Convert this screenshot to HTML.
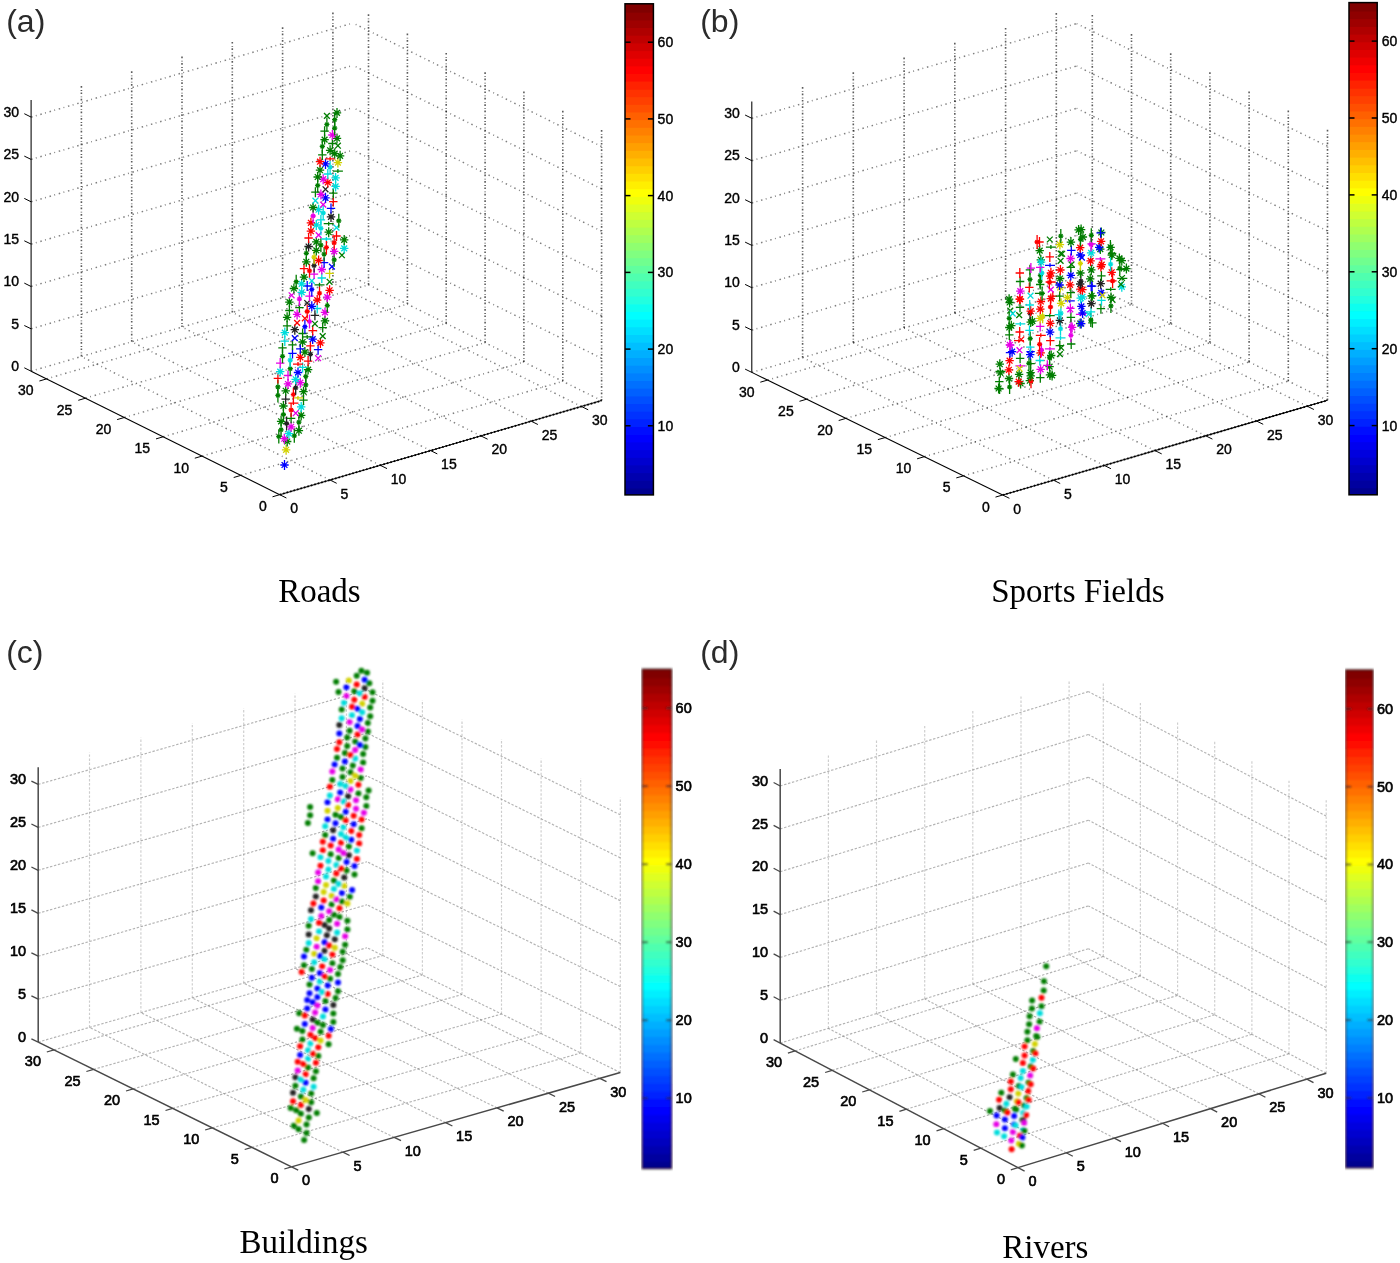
<!DOCTYPE html>
<html lang="en"><head><meta charset="utf-8"><title>3D distribution plots: Roads, Sports Fields, Buildings, Rivers</title>
<style>
html,body{margin:0;padding:0;background:#fff}
body{width:1400px;height:1263px;overflow:hidden}
svg{display:block}
text{font-family:"Liberation Sans",Arial,sans-serif}
.pl{font-size:32px;fill:#2b2b2b}
.ttl{font-family:"Liberation Serif","Times New Roman",serif;font-size:33px;fill:#000}
.sharp .tl{font-size:14px;fill:#000;stroke:#000;stroke-width:.4}
.sharp .gv{stroke:#000;stroke-width:1.6;stroke-dasharray:1.7 1.5 .8 2.4;stroke-opacity:.64;fill:none}
.sharp .gd{stroke:#000;stroke-width:1.5;stroke-dasharray:1.5 3.4 .9 3.8;stroke-opacity:.5;fill:none}
.sharp .ax{stroke:#000;stroke-width:1.05}
.sharp .axd{stroke:#000;stroke-width:1.8;stroke-dasharray:1.6 2}
.soft .axd{stroke:none}
.sharp .tk{stroke:#000;stroke-width:1}
.sharp .cbb{fill:none;stroke:#000;stroke-width:1.5}
.sharp .cbt{stroke:#000;stroke-width:1.5}
.soft .tl{font-size:14.5px;fill:#000;stroke:#000;stroke-width:.62}
.soft .gv{stroke:#888;stroke-width:1.15;stroke-dasharray:2.4 1.7;stroke-opacity:.42;fill:none}
.soft .gd{stroke:#777;stroke-width:1.15;stroke-dasharray:2.4 1.7;stroke-opacity:.56;fill:none}
.soft .ax{stroke:#484848;stroke-width:1.5}
.soft .tk{stroke:#484848;stroke-width:1.3}
.soft .cbb{fill:none;stroke:#200;stroke-width:1.6;stroke-opacity:.75}
.soft .cbt{stroke:#222;stroke-width:1.6}
.mk path{fill:none;stroke-width:1.3}
</style></head><body>
<svg width="1400" height="1263" viewBox="0 0 1400 1263">
<defs><filter id="bl" x="-2%" y="-2%" width="104%" height="104%"><feGaussianBlur stdDeviation="1.0"/></filter><filter id="bs" x="-2%" y="-2%" width="104%" height="104%"><feGaussianBlur stdDeviation="0.35"/></filter><filter id="bt" x="-2%" y="-2%" width="104%" height="104%"><feGaussianBlur stdDeviation="0.7"/></filter></defs>
<rect width="1400" height="1263" fill="#fff"/>
<g filter="url(#bs)">
<g class="sharp">
<line class="gd" x1="330" y1="480" x2="81.4" y2="356.5"/>
<line class="gd" x1="240.8" y1="475.4" x2="562.8" y2="381.3"/>
<line class="gd" x1="380.3" y1="465.3" x2="131.7" y2="341.8"/>
<line class="gd" x1="202" y1="456.1" x2="523.9" y2="362"/>
<line class="gd" x1="430.6" y1="450.6" x2="182" y2="327.1"/>
<line class="gd" x1="163.1" y1="436.8" x2="485.1" y2="342.7"/>
<line class="gd" x1="480.9" y1="435.9" x2="232.3" y2="312.4"/>
<line class="gd" x1="124.3" y1="417.5" x2="446.2" y2="323.4"/>
<line class="gd" x1="531.2" y1="421.2" x2="282.6" y2="297.7"/>
<line class="gd" x1="85.4" y1="398.2" x2="407.4" y2="304.1"/>
<line class="gd" x1="581.5" y1="406.5" x2="332.9" y2="283"/>
<line class="gd" x1="46.6" y1="378.9" x2="368.5" y2="284.8"/>
<line class="gd" x1="31.1" y1="371.2" x2="353" y2="277.1"/>
<line class="gd" x1="601.6" y1="400.6" x2="353" y2="277.1"/>
<line class="gv" x1="81.4" y1="356.5" x2="81.4" y2="85.4"/>
<line class="gd" x1="31.1" y1="328.8" x2="353" y2="234.8"/>
<line class="gv" x1="131.7" y1="341.8" x2="131.7" y2="70.7"/>
<line class="gd" x1="31.1" y1="286.5" x2="353" y2="192.4"/>
<line class="gv" x1="182" y1="327.1" x2="182" y2="56"/>
<line class="gd" x1="31.1" y1="244.1" x2="353" y2="150.1"/>
<line class="gv" x1="232.3" y1="312.4" x2="232.3" y2="41.3"/>
<line class="gd" x1="31.1" y1="201.8" x2="353" y2="107.7"/>
<line class="gv" x1="282.6" y1="297.7" x2="282.6" y2="26.6"/>
<line class="gd" x1="31.1" y1="159.4" x2="353" y2="65.3"/>
<line class="gv" x1="332.9" y1="283" x2="332.9" y2="11.9"/>
<line class="gd" x1="31.1" y1="117.1" x2="353" y2="23"/>
<line class="gv" x1="601.6" y1="400.6" x2="601.6" y2="129.6"/>
<line class="gv" x1="562.8" y1="381.3" x2="562.8" y2="110.3"/>
<line class="gv" x1="523.9" y1="362" x2="523.9" y2="91"/>
<line class="gv" x1="485.1" y1="342.7" x2="485.1" y2="71.7"/>
<line class="gv" x1="446.2" y1="323.4" x2="446.2" y2="52.4"/>
<line class="gv" x1="407.4" y1="304.1" x2="407.4" y2="33.1"/>
<line class="gv" x1="368.5" y1="284.8" x2="368.5" y2="13.8"/>
<line class="gd" x1="601.6" y1="358.3" x2="353" y2="234.8"/>
<line class="gd" x1="601.6" y1="315.9" x2="353" y2="192.4"/>
<line class="gd" x1="601.6" y1="273.6" x2="353" y2="150.1"/>
<line class="gd" x1="601.6" y1="231.2" x2="353" y2="107.7"/>
<line class="gd" x1="601.6" y1="188.9" x2="353" y2="65.3"/>
<line class="gd" x1="601.6" y1="146.5" x2="353" y2="23"/>
<line class="ax" x1="31.1" y1="371.2" x2="31.1" y2="100.1"/>
<line class="ax" x1="279.7" y1="494.7" x2="31.1" y2="371.2"/>
<line class="ax" x1="279.7" y1="494.7" x2="601.6" y2="400.6"/>
<line class="axd" x1="279.7" y1="494.7" x2="601.6" y2="400.6"/>
<line class="tk" x1="31.1" y1="371.2" x2="24.3" y2="367.8"/>
<line class="tk" x1="279.7" y1="494.7" x2="272.5" y2="496.8"/>
<line class="tk" x1="279.7" y1="494.7" x2="286.4" y2="498"/>
<line class="tk" x1="31.1" y1="328.8" x2="24.3" y2="325.5"/>
<line class="tk" x1="240.8" y1="475.4" x2="233.7" y2="477.5"/>
<line class="tk" x1="330" y1="480" x2="336.7" y2="483.3"/>
<line class="tk" x1="31.1" y1="286.5" x2="24.3" y2="283.1"/>
<line class="tk" x1="202" y1="456.1" x2="194.8" y2="458.2"/>
<line class="tk" x1="380.3" y1="465.3" x2="387" y2="468.6"/>
<line class="tk" x1="31.1" y1="244.1" x2="24.3" y2="240.8"/>
<line class="tk" x1="163.1" y1="436.8" x2="156" y2="438.9"/>
<line class="tk" x1="430.6" y1="450.6" x2="437.3" y2="453.9"/>
<line class="tk" x1="31.1" y1="201.8" x2="24.3" y2="198.4"/>
<line class="tk" x1="124.3" y1="417.5" x2="117.1" y2="419.6"/>
<line class="tk" x1="480.9" y1="435.9" x2="487.6" y2="439.2"/>
<line class="tk" x1="31.1" y1="159.4" x2="24.3" y2="156.1"/>
<line class="tk" x1="85.4" y1="398.2" x2="78.3" y2="400.3"/>
<line class="tk" x1="531.2" y1="421.2" x2="537.9" y2="424.5"/>
<line class="tk" x1="31.1" y1="117.1" x2="24.3" y2="113.7"/>
<line class="tk" x1="46.6" y1="378.9" x2="39.4" y2="381"/>
<line class="tk" x1="581.5" y1="406.5" x2="588.2" y2="409.8"/>
</g>
<g class="sharp">
<rect x="625" y="487.2" width="28.4" height="7.7" fill="#00008f"/>
<rect x="625" y="479.6" width="28.4" height="8.9" fill="#00009f"/>
<rect x="625" y="471.9" width="28.4" height="8.9" fill="#0000af"/>
<rect x="625" y="464.2" width="28.4" height="8.9" fill="#0000bf"/>
<rect x="625" y="456.5" width="28.4" height="8.9" fill="#0000cf"/>
<rect x="625" y="448.9" width="28.4" height="8.9" fill="#0000df"/>
<rect x="625" y="441.2" width="28.4" height="8.9" fill="#0000ef"/>
<rect x="625" y="433.5" width="28.4" height="8.9" fill="#0000ff"/>
<rect x="625" y="425.8" width="28.4" height="8.9" fill="#0010ff"/>
<rect x="625" y="418.2" width="28.4" height="8.9" fill="#0020ff"/>
<rect x="625" y="410.5" width="28.4" height="8.9" fill="#0030ff"/>
<rect x="625" y="402.8" width="28.4" height="8.9" fill="#0040ff"/>
<rect x="625" y="395.1" width="28.4" height="8.9" fill="#0050ff"/>
<rect x="625" y="387.5" width="28.4" height="8.9" fill="#0060ff"/>
<rect x="625" y="379.8" width="28.4" height="8.9" fill="#0070ff"/>
<rect x="625" y="372.1" width="28.4" height="8.9" fill="#0080ff"/>
<rect x="625" y="364.5" width="28.4" height="8.9" fill="#008fff"/>
<rect x="625" y="356.8" width="28.4" height="8.9" fill="#009fff"/>
<rect x="625" y="349.1" width="28.4" height="8.9" fill="#00afff"/>
<rect x="625" y="341.4" width="28.4" height="8.9" fill="#00bfff"/>
<rect x="625" y="333.8" width="28.4" height="8.9" fill="#00cfff"/>
<rect x="625" y="326.1" width="28.4" height="8.9" fill="#00dfff"/>
<rect x="625" y="318.4" width="28.4" height="8.9" fill="#00efff"/>
<rect x="625" y="310.7" width="28.4" height="8.9" fill="#00ffff"/>
<rect x="625" y="303.1" width="28.4" height="8.9" fill="#10ffef"/>
<rect x="625" y="295.4" width="28.4" height="8.9" fill="#20ffdf"/>
<rect x="625" y="287.7" width="28.4" height="8.9" fill="#30ffcf"/>
<rect x="625" y="280" width="28.4" height="8.9" fill="#40ffbf"/>
<rect x="625" y="272.4" width="28.4" height="8.9" fill="#50ffaf"/>
<rect x="625" y="264.7" width="28.4" height="8.9" fill="#60ff9f"/>
<rect x="625" y="257" width="28.4" height="8.9" fill="#70ff8f"/>
<rect x="625" y="249.3" width="28.4" height="8.9" fill="#80ff80"/>
<rect x="625" y="241.7" width="28.4" height="8.9" fill="#8fff70"/>
<rect x="625" y="234" width="28.4" height="8.9" fill="#9fff60"/>
<rect x="625" y="226.3" width="28.4" height="8.9" fill="#afff50"/>
<rect x="625" y="218.7" width="28.4" height="8.9" fill="#bfff40"/>
<rect x="625" y="211" width="28.4" height="8.9" fill="#cfff30"/>
<rect x="625" y="203.3" width="28.4" height="8.9" fill="#dfff20"/>
<rect x="625" y="195.6" width="28.4" height="8.9" fill="#efff10"/>
<rect x="625" y="188" width="28.4" height="8.9" fill="#ffff00"/>
<rect x="625" y="180.3" width="28.4" height="8.9" fill="#ffef00"/>
<rect x="625" y="172.6" width="28.4" height="8.9" fill="#ffdf00"/>
<rect x="625" y="164.9" width="28.4" height="8.9" fill="#ffcf00"/>
<rect x="625" y="157.3" width="28.4" height="8.9" fill="#ffbf00"/>
<rect x="625" y="149.6" width="28.4" height="8.9" fill="#ffaf00"/>
<rect x="625" y="141.9" width="28.4" height="8.9" fill="#ff9f00"/>
<rect x="625" y="134.2" width="28.4" height="8.9" fill="#ff8f00"/>
<rect x="625" y="126.6" width="28.4" height="8.9" fill="#ff8000"/>
<rect x="625" y="118.9" width="28.4" height="8.9" fill="#ff7000"/>
<rect x="625" y="111.2" width="28.4" height="8.9" fill="#ff6000"/>
<rect x="625" y="103.6" width="28.4" height="8.9" fill="#ff5000"/>
<rect x="625" y="95.9" width="28.4" height="8.9" fill="#ff4000"/>
<rect x="625" y="88.2" width="28.4" height="8.9" fill="#ff3000"/>
<rect x="625" y="80.5" width="28.4" height="8.9" fill="#ff2000"/>
<rect x="625" y="72.9" width="28.4" height="8.9" fill="#ff1000"/>
<rect x="625" y="65.2" width="28.4" height="8.9" fill="#ff0000"/>
<rect x="625" y="57.5" width="28.4" height="8.9" fill="#ef0000"/>
<rect x="625" y="49.8" width="28.4" height="8.9" fill="#df0000"/>
<rect x="625" y="42.2" width="28.4" height="8.9" fill="#cf0000"/>
<rect x="625" y="34.5" width="28.4" height="8.9" fill="#bf0000"/>
<rect x="625" y="26.8" width="28.4" height="8.9" fill="#af0000"/>
<rect x="625" y="19.1" width="28.4" height="8.9" fill="#9f0000"/>
<rect x="625" y="11.5" width="28.4" height="8.9" fill="#8f0000"/>
<rect x="625" y="3.8" width="28.4" height="8.9" fill="#800000"/>
<rect class="cbb" x="625" y="3.8" width="28.4" height="491.1"/>
<line class="cbt" x1="625" y1="425.8" x2="630.5" y2="425.8"/>
<line class="cbt" x1="647.9" y1="425.8" x2="653.4" y2="425.8"/>
<line class="cbt" x1="625" y1="349.1" x2="630.5" y2="349.1"/>
<line class="cbt" x1="647.9" y1="349.1" x2="653.4" y2="349.1"/>
<line class="cbt" x1="625" y1="272.4" x2="630.5" y2="272.4"/>
<line class="cbt" x1="647.9" y1="272.4" x2="653.4" y2="272.4"/>
<line class="cbt" x1="625" y1="195.6" x2="630.5" y2="195.6"/>
<line class="cbt" x1="647.9" y1="195.6" x2="653.4" y2="195.6"/>
<line class="cbt" x1="625" y1="118.9" x2="630.5" y2="118.9"/>
<line class="cbt" x1="647.9" y1="118.9" x2="653.4" y2="118.9"/>
<line class="cbt" x1="625" y1="42.2" x2="630.5" y2="42.2"/>
<line class="cbt" x1="647.9" y1="42.2" x2="653.4" y2="42.2"/>
</g>
<g class="sharp">
<text class="tl" text-anchor="end" x="19.1" y="370.9">0</text>
<text class="tl" text-anchor="end" x="266.7" y="511.2">0</text>
<text class="tl" x="290.2" y="513.2">0</text>
<text class="tl" text-anchor="end" x="19.1" y="328.5">5</text>
<text class="tl" text-anchor="end" x="227.8" y="491.9">5</text>
<text class="tl" x="340.5" y="498.5">5</text>
<text class="tl" text-anchor="end" x="19.1" y="286.2">10</text>
<text class="tl" text-anchor="end" x="189" y="472.6">10</text>
<text class="tl" x="390.8" y="483.8">10</text>
<text class="tl" text-anchor="end" x="19.1" y="243.8">15</text>
<text class="tl" text-anchor="end" x="150.1" y="453.3">15</text>
<text class="tl" x="441.1" y="469.1">15</text>
<text class="tl" text-anchor="end" x="19.1" y="201.5">20</text>
<text class="tl" text-anchor="end" x="111.3" y="434">20</text>
<text class="tl" x="491.4" y="454.4">20</text>
<text class="tl" text-anchor="end" x="19.1" y="159.1">25</text>
<text class="tl" text-anchor="end" x="72.4" y="414.7">25</text>
<text class="tl" x="541.7" y="439.7">25</text>
<text class="tl" text-anchor="end" x="19.1" y="116.8">30</text>
<text class="tl" text-anchor="end" x="33.6" y="395.4">30</text>
<text class="tl" x="592" y="425">30</text>
<text class="tl" x="657.6" y="430.7">10</text>
<text class="tl" x="657.6" y="354">20</text>
<text class="tl" x="657.6" y="277.3">30</text>
<text class="tl" x="657.6" y="200.5">40</text>
<text class="tl" x="657.6" y="123.8">50</text>
<text class="tl" x="657.6" y="47.1">60</text>
</g>
<g class="mk">
<path d="M280.3 465 h8.4 M284.5 460 v10 M281.6 462.1 l5.8 5.8 M281.6 467.9 l5.8 -5.8" stroke="#0000ff"/>
<path d="M281.9 449.8 h8.4 M286.1 444.8 v10 M283.2 446.9 l5.8 5.8 M283.2 452.7 l5.8 -5.8" stroke="#d2d200"/>
<path d="M283 441.5 h8.4 M287.2 436.5 v10 M284.3 438.6 l5.8 5.8 M284.3 444.4 l5.8 -5.8" stroke="#007d00"/>
<path d="M280.1 438.7 L288.5 438.7 M284.3 433.7 L284.3 443.7 M281.4 435.8 L287.2 441.6 M281.4 441.6 L287.2 435.8" stroke="#e600e6"/>
<path d="M278.8 429.6 L278.8 443.6 M276.2 436.6 L281.4 436.6 M277 434.8 L280.6 438.4 M277 438.4 L280.6 434.8" stroke="#007d00"/>
<path d="M294.3 428.8 L294.3 442.8 M291.7 435.8 L296.9 435.8 M292.5 434 L296.1 437.6 M292.5 437.6 L296.1 434" stroke="#007d00"/>
<path d="M284.7 433.6 L293.1 433.6 M288.9 428.6 L288.9 438.6 M286 430.7 L291.8 436.5 M286 436.5 L291.8 430.7" stroke="#00dcdc"/>
<path d="M294.7 430.7 L303.1 430.7 M298.9 425.7 L298.9 435.7 M296 427.8 L301.8 433.6 M296 433.6 L301.8 427.8" stroke="#007d00"/>
<path d="M281.1 422.8 L281.1 436.8 M278.5 429.8 L283.7 429.8 M279.3 428 L282.9 431.6 M279.3 431.6 L282.9 428" stroke="#007d00"/>
<path d="M286.9 426.8 L295.3 426.8 M291.1 421.8 L291.1 431.8 M288.2 423.9 L294 429.7 M288.2 429.7 L294 423.9" stroke="#e600e6"/>
<path d="M286.6 416.5 L286.6 430.5 M284 423.5 L289.2 423.5 M284.8 421.7 L288.4 425.3 M284.8 425.3 L288.4 421.7" stroke="#202020"/>
<path d="M298.9 415.2 L298.9 429.2 M296.3 422.2 L301.5 422.2 M297.1 420.4 L300.7 424 M297.1 424 L300.7 420.4" stroke="#007d00"/>
<path d="M276.9 421.3 L285.3 421.3 M281.1 416.3 L281.1 426.3 M278.2 418.4 L284 424.2 M278.2 424.2 L284 418.4" stroke="#007d00"/>
<path d="M286.9 418.3 L295.3 418.3 M291.1 413.3 L291.1 423.3" stroke="#007d00"/>
<path d="M297 415.4 L305.4 415.4 M301.2 410.4 L301.2 420.4 M298.3 412.5 L304.1 418.3 M298.3 418.3 L304.1 412.5" stroke="#007d00"/>
<path d="M283.4 407.5 L283.4 421.5 M280.8 414.5 L286 414.5 M281.6 412.7 L285.2 416.3 M281.6 416.3 L285.2 412.7" stroke="#007d00"/>
<path d="M292.8 410.3 L298.6 416.1 M292.8 416.1 L298.6 410.3" stroke="#e600e6"/>
<path d="M291.1 402.9 L291.1 416.9 M288.5 409.9 L293.8 409.9 M289.3 408.1 L292.9 411.7 M289.3 411.7 L292.9 408.1" stroke="#ff0000"/>
<path d="M297 406.9 L305.4 406.9 M301.2 401.9 L301.2 411.9 M298.3 404 L304.1 409.8 M298.3 409.8 L304.1 404" stroke="#00dcdc"/>
<path d="M279.2 406 L287.6 406 M283.4 401 L283.4 411 M280.5 403.1 L286.3 408.9 M280.5 408.9 L286.3 403.1" stroke="#007d00"/>
<path d="M288.4 403.1 L298.4 403.1 M293.4 401.1 L293.4 405.1" stroke="#ff0000"/>
<path d="M299.3 400.1 L307.7 400.1 M303.5 395.1 L303.5 405.1" stroke="#007d00"/>
<path d="M281.5 399.2 L289.9 399.2 M285.7 394.2 L285.7 404.2" stroke="#202020"/>
<path d="M293 397.9 L303 397.9 M298 395.9 L298 399.9" stroke="#d2d200"/>
<path d="M277.9 388.4 L277.9 402.4 M275.3 395.4 L280.5 395.4 M276.1 393.6 L279.7 397.2 M276.1 397.2 L279.7 393.6" stroke="#007d00"/>
<path d="M293.4 387.6 L293.4 401.6 M290.8 394.6 L296 394.6 M291.6 392.8 L295.2 396.4 M291.6 396.4 L295.2 392.8" stroke="#ff0000"/>
<path d="M299.3 391.7 L307.7 391.7 M303.5 386.7 L303.5 396.7 M300.6 388.8 L306.4 394.6 M300.6 394.6 L306.4 388.8" stroke="#007d00"/>
<path d="M281.5 390.8 L289.9 390.8 M285.7 385.8 L285.7 395.8 M282.8 387.9 L288.6 393.6 M282.8 393.6 L288.6 387.9" stroke="#007d00"/>
<path d="M295.7 380.8 L295.7 394.8 M293.1 387.8 L298.3 387.8 M293.9 386 L297.5 389.6 M293.9 389.6 L297.5 386" stroke="#202020"/>
<path d="M277.9 379.9 L277.9 393.9 M275.3 386.9 L280.5 386.9 M276.1 385.1 L279.7 388.7 M276.1 388.7 L279.7 385.1" stroke="#007d00"/>
<path d="M305.8 377.9 L305.8 391.9 M303.2 384.9 L308.4 384.9 M304 383.1 L307.6 386.7 M304 386.7 L307.6 383.1" stroke="#007d00"/>
<path d="M283.8 383.9 L292.2 383.9 M288 378.9 L288 388.9 M285.1 381.1 L290.9 386.8 M285.1 386.8 L290.9 381.1" stroke="#e600e6"/>
<path d="M296.1 382.7 L304.5 382.7 M300.3 377.7 L300.3 387.7 M297.4 379.8 L303.2 385.6 M297.4 385.6 L303.2 379.8" stroke="#e600e6"/>
<path d="M291.5 379.3 L299.9 379.3 M295.7 374.3 L295.7 384.3 M292.8 376.4 L298.6 382.2 M292.8 382.2 L298.6 376.4" stroke="#00dcdc"/>
<path d="M273.7 378.4 L282.1 378.4 M277.9 373.4 L277.9 383.4" stroke="#ff0000"/>
<path d="M305.8 369.4 L305.8 383.4 M303.2 376.4 L308.4 376.4 M304 374.6 L307.6 378.2 M304 378.2 L307.6 374.6" stroke="#007d00"/>
<path d="M283.8 375.5 L292.2 375.5 M288 370.5 L288 380.5" stroke="#e600e6"/>
<path d="M293.8 372.5 L302.2 372.5 M298 367.5 L298 377.5 M295.1 369.6 L300.9 375.4 M295.1 375.4 L300.9 369.6" stroke="#0000ff"/>
<path d="M276 371.6 L284.4 371.6 M280.2 366.6 L280.2 376.6 M277.3 368.7 L283.1 374.5 M277.3 374.5 L283.1 368.7" stroke="#00dcdc"/>
<path d="M303.9 369.6 L312.3 369.6 M308.1 364.6 L308.1 374.6 M305.2 366.7 L311 372.5 M305.2 372.5 L311 366.7" stroke="#007d00"/>
<path d="M290.2 361.7 L290.2 375.7 M287.6 368.7 L292.9 368.7 M288.4 366.9 L292.1 370.5 M288.4 370.5 L292.1 366.9" stroke="#007d00"/>
<path d="M298.4 367.4 L306.8 367.4 M302.6 362.4 L302.6 372.4" stroke="#00dcdc"/>
<path d="M293 364.1 L303 364.1 M298 362.1 L298 366.1" stroke="#ff0000"/>
<path d="M276 363.1 L284.4 363.1 M280.2 358.1 L280.2 368.1" stroke="#e600e6"/>
<path d="M303.9 361.1 L312.3 361.1 M308.1 356.1 L308.1 366.1" stroke="#ff0000"/>
<path d="M290.2 353.2 L290.2 367.2 M287.6 360.2 L292.9 360.2 M288.4 358.4 L292.1 362 M288.4 362 L292.1 358.4" stroke="#00dcdc"/>
<path d="M315.2 355.3 L321 361.1 M315.2 361.1 L321 355.3" stroke="#e600e6"/>
<path d="M296.1 357.3 L304.5 357.3 M300.3 352.3 L300.3 362.3 M297.4 354.4 L303.2 360.2 M297.4 360.2 L303.2 354.4" stroke="#ff0000"/>
<path d="M282.5 349.3 L282.5 363.3 M279.9 356.3 L285.1 356.3 M280.7 354.5 L284.3 358.1 M280.7 358.1 L284.3 354.5" stroke="#007d00"/>
<path d="M310.4 347.3 L310.4 361.3 M307.8 354.3 L313 354.3 M308.6 352.5 L312.2 356.1 M308.6 356.1 L312.2 352.5" stroke="#202020"/>
<path d="M288.3 353.4 L296.7 353.4 M292.5 348.4 L292.5 358.4" stroke="#0000ff"/>
<path d="M300.7 352.1 L309.1 352.1 M304.9 347.1 L304.9 357.1 M302 349.2 L307.8 355 M302 355 L307.8 349.2" stroke="#007d00"/>
<path d="M313.9 349.7 L322.3 349.7 M318.1 344.7 L318.1 354.7" stroke="#0000ff"/>
<path d="M296.1 348.8 L304.5 348.8 M300.3 343.8 L300.3 353.8" stroke="#0000ff"/>
<path d="M278.3 347.9 L286.7 347.9 M282.5 342.9 L282.5 352.9" stroke="#007d00"/>
<path d="M306.2 345.9 L314.6 345.9 M310.4 340.9 L310.4 350.9" stroke="#ff0000"/>
<path d="M288.3 344.9 L296.7 344.9 M292.5 339.9 L292.5 349.9" stroke="#007d00"/>
<path d="M316.2 342.9 L324.6 342.9 M320.4 337.9 L320.4 347.9 M317.5 340 L323.3 345.8 M317.5 345.8 L323.3 340" stroke="#ff0000"/>
<path d="M298.4 342 L306.8 342 M302.6 337 L302.6 347 M299.7 339.1 L305.5 344.9 M299.7 344.9 L305.5 339.1" stroke="#007d00"/>
<path d="M280.6 341.1 L289 341.1 M284.8 336.1 L284.8 346.1" stroke="#00dcdc"/>
<path d="M308.5 339.1 L316.9 339.1 M312.7 334.1 L312.7 344.1 M309.8 336.2 L315.6 342 M309.8 342 L315.6 336.2" stroke="#0000ff"/>
<path d="M291.9 335.2 L297.7 341 M291.9 341 L297.7 335.2" stroke="#0000ff"/>
<path d="M302.2 336.9 L312.2 336.9 M307.2 334.9 L307.2 338.9" stroke="#007d00"/>
<path d="M319.8 333.2 L325.6 339 M319.8 339 L325.6 333.2" stroke="#007d00"/>
<path d="M298.4 333.5 L306.8 333.5 M302.6 328.5 L302.6 338.5" stroke="#007d00"/>
<path d="M280.6 332.6 L289 332.6 M284.8 327.6 L284.8 337.6 M281.9 329.7 L287.7 335.5 M281.9 335.5 L287.7 329.7" stroke="#00dcdc"/>
<path d="M308.5 330.6 L316.9 330.6 M312.7 325.6 L312.7 335.6" stroke="#ff0000"/>
<path d="M290.6 329.7 L299 329.7 M294.8 324.7 L294.8 334.7 M291.9 326.8 L297.7 332.6 M291.9 332.6 L297.7 326.8" stroke="#202020"/>
<path d="M318.5 327.6 L326.9 327.6 M322.7 322.6 L322.7 332.6" stroke="#007d00"/>
<path d="M304.9 319.7 L304.9 333.7 M302.3 326.7 L307.5 326.7 M303.1 324.9 L306.7 328.5 M303.1 328.5 L306.7 324.9" stroke="#0000ff"/>
<path d="M282.9 325.8 L291.3 325.8 M287.1 320.8 L287.1 330.8" stroke="#007d00"/>
<path d="M312 320.9 L317.8 326.7 M312 326.7 L317.8 320.9" stroke="#007d00"/>
<path d="M294.2 320 L300 325.8 M294.2 325.8 L300 320" stroke="#ff0000"/>
<path d="M309.5 314.6 L309.5 328.6 M306.9 321.6 L312.1 321.6 M307.7 319.8 L311.3 323.4 M307.7 323.4 L311.3 319.8" stroke="#e600e6"/>
<path d="M320.8 320.9 L329.2 320.9 M325 315.9 L325 325.9 M322.1 318 L327.9 323.8 M322.1 323.8 L327.9 318" stroke="#007d00"/>
<path d="M302 315.4 L307.8 321.2 M302 321.2 L307.8 315.4" stroke="#ff0000"/>
<path d="M282.9 317.3 L291.3 317.3 M287.1 312.3 L287.1 322.3 M284.2 314.4 L290 320.2 M284.2 320.2 L290 314.4" stroke="#007d00"/>
<path d="M310.7 315.3 L319.1 315.3 M314.9 310.3 L314.9 320.3" stroke="#202020"/>
<path d="M292.9 314.4 L301.3 314.4 M297.1 309.4 L297.1 319.4 M294.2 311.5 L300 317.3 M294.2 317.3 L300 311.5" stroke="#e600e6"/>
<path d="M320.8 312.4 L329.2 312.4 M325 307.4 L325 317.4 M322.1 309.5 L327.9 315.3 M322.1 315.3 L327.9 309.5" stroke="#e600e6"/>
<path d="M307.2 304.5 L307.2 318.5 M304.6 311.5 L309.8 311.5 M305.4 309.7 L309 313.3 M305.4 313.3 L309 309.7" stroke="#ff0000"/>
<path d="M285.2 310.5 L293.6 310.5 M289.4 305.5 L289.4 315.5" stroke="#007d00"/>
<path d="M313 308.5 L321.4 308.5 M317.2 303.5 L317.2 313.5" stroke="#00dcdc"/>
<path d="M295.2 307.6 L303.6 307.6 M299.4 302.6 L299.4 312.6" stroke="#007d00"/>
<path d="M307.6 306.3 L316 306.3 M311.8 301.3 L311.8 311.3 M308.9 303.4 L314.7 309.2 M308.9 309.2 L314.7 303.4" stroke="#0000ff"/>
<path d="M327.3 298.6 L327.3 312.6 M324.7 305.6 L329.9 305.6 M325.5 303.8 L329.1 307.4 M325.5 307.4 L329.1 303.8" stroke="#007d00"/>
<path d="M304.3 300.1 L310.1 305.9 M304.3 305.9 L310.1 300.1" stroke="#202020"/>
<path d="M285.2 302.1 L293.6 302.1 M289.4 297.1 L289.4 307.1 M286.5 299.2 L292.2 305 M286.5 305 L292.2 299.2" stroke="#007d00"/>
<path d="M313 300.1 L321.4 300.1 M317.2 295.1 L317.2 305.1 M314.3 297.2 L320.1 302.9 M314.3 302.9 L320.1 297.2" stroke="#ff0000"/>
<path d="M299.4 292.1 L299.4 306.1 M296.8 299.1 L302 299.1 M297.6 297.3 L301.2 300.9 M297.6 300.9 L301.2 297.3" stroke="#e600e6"/>
<path d="M323.1 297.1 L331.5 297.1 M327.3 292.1 L327.3 302.1 M324.4 294.2 L330.2 300 M324.4 300 L330.2 294.2" stroke="#e600e6"/>
<path d="M305.3 296.2 L313.7 296.2 M309.5 291.2 L309.5 301.2" stroke="#e600e6"/>
<path d="M288.7 292.4 L294.5 298.2 M288.7 298.2 L294.5 292.4" stroke="#e600e6"/>
<path d="M319.5 286.2 L319.5 300.2 M316.9 293.2 L322.1 293.2 M317.7 291.4 L321.3 295 M317.7 295 L321.3 291.4" stroke="#ff0000"/>
<path d="M297.5 292.3 L305.9 292.3 M301.7 287.3 L301.7 297.3 M298.8 289.4 L304.6 295.2 M298.8 295.2 L304.6 289.4" stroke="#00dcdc"/>
<path d="M325.4 290.3 L333.8 290.3 M329.6 285.3 L329.6 295.3 M326.7 287.4 L332.5 293.2 M326.7 293.2 L332.5 287.4" stroke="#ff0000"/>
<path d="M311.8 282.4 L311.8 296.4 M309.2 289.4 L314.4 289.4 M310 287.6 L313.6 291.2 M310 291.2 L313.6 287.6" stroke="#0000ff"/>
<path d="M289.7 288.5 L298.1 288.5 M293.9 283.5 L293.9 293.5 M291 285.6 L296.8 291.4 M291 291.4 L296.8 285.6" stroke="#007d00"/>
<path d="M303 286 L311.4 286 M307.2 281 L307.2 291" stroke="#0000ff"/>
<path d="M314.5 284.8 L324.5 284.8 M319.5 282.8 L319.5 286.8" stroke="#007d00"/>
<path d="M297.5 283.9 L305.9 283.9 M301.7 278.9 L301.7 288.9 M298.8 281 L304.6 286.8 M298.8 286.8 L304.6 281" stroke="#00dcdc"/>
<path d="M326.7 278.9 L332.5 284.7 M326.7 284.7 L332.5 278.9" stroke="#007d00"/>
<path d="M296.2 274.7 L296.2 288.7 M293.6 281.7 L298.8 281.7 M294.4 279.9 L298 283.5 M294.4 283.5 L298 279.9" stroke="#007d00"/>
<path d="M308.9 278 L314.7 283.8 M308.9 283.8 L314.7 278" stroke="#00dcdc"/>
<path d="M317.6 278 L326 278 M321.8 273 L321.8 283" stroke="#00dcdc"/>
<path d="M299.8 277.1 L308.2 277.1 M304 272.1 L304 282.1 M301.1 274.2 L306.9 280 M301.1 280 L306.9 274.2" stroke="#007d00"/>
<path d="M309.9 274.1 L318.2 274.1 M314.1 269.1 L314.1 279.1" stroke="#e600e6"/>
<path d="M325.4 273.4 L333.8 273.4 M329.6 268.4 L329.6 278.4" stroke="#d2d200"/>
<path d="M309.5 263.8 L309.5 277.8 M306.9 270.8 L312.1 270.8 M307.7 269 L311.3 272.6 M307.7 272.6 L311.3 269" stroke="#ff0000"/>
<path d="M317.6 269.5 L326 269.5 M321.8 264.5 L321.8 274.5 M318.9 266.6 L324.7 272.4 M318.9 272.4 L324.7 266.6" stroke="#e600e6"/>
<path d="M299.8 268.6 L308.2 268.6 M304 263.6 L304 273.6" stroke="#ff0000"/>
<path d="M329 263.7 L334.8 269.5 M329 269.5 L334.8 263.7" stroke="#0000ff"/>
<path d="M314.1 258.6 L314.1 272.6 M311.4 265.6 L316.7 265.6 M312.2 263.8 L315.9 267.4 M312.2 267.4 L315.9 263.8" stroke="#202020"/>
<path d="M319.9 262.7 L328.3 262.7 M324.1 257.7 L324.1 267.7" stroke="#0000ff"/>
<path d="M302.1 261.8 L310.5 261.8 M306.3 256.8 L306.3 266.8 M303.4 258.9 L309.2 264.7 M303.4 264.7 L309.2 258.9" stroke="#007d00"/>
<path d="M314.4 260.5 L322.8 260.5 M318.6 255.5 L318.6 265.5 M315.7 257.6 L321.5 263.4 M315.7 263.4 L321.5 257.6" stroke="#ff0000"/>
<path d="M334.2 252.8 L334.2 266.8 M331.6 259.8 L336.8 259.8 M332.4 258 L336 261.6 M332.4 261.6 L336 258" stroke="#007d00"/>
<path d="M314.1 250.2 L314.1 264.2 M311.4 257.2 L316.7 257.2 M312.2 255.4 L315.9 259 M312.2 259 L315.9 255.4" stroke="#d2d200"/>
<path d="M339 252.3 L344.8 258.1 M339 258.1 L344.8 252.3" stroke="#007d00"/>
<path d="M324.1 247.2 L324.1 261.2 M321.5 254.2 L326.7 254.2 M322.3 252.4 L325.9 256 M322.3 256 L325.9 252.4" stroke="#007d00"/>
<path d="M306.3 246.3 L306.3 260.3 M303.7 253.3 L308.9 253.3 M304.5 251.5 L308.1 255.1 M304.5 255.1 L308.1 251.5" stroke="#007d00"/>
<path d="M330 251.3 L338.4 251.3 M334.2 246.3 L334.2 256.3 M331.3 248.4 L337.1 254.2 M331.3 254.2 L337.1 248.4" stroke="#e600e6"/>
<path d="M312.1 250.4 L320.5 250.4 M316.3 245.4 L316.3 255.4 M313.4 247.5 L319.2 253.3 M313.4 253.3 L319.2 247.5" stroke="#007d00"/>
<path d="M340 248.4 L348.4 248.4 M344.2 243.4 L344.2 253.4 M341.3 245.5 L347.1 251.3 M341.3 251.3 L347.1 245.5" stroke="#00dcdc"/>
<path d="M326.4 240.4 L326.4 254.4 M323.8 247.4 L329 247.4 M324.6 245.6 L328.2 249.2 M324.6 249.2 L328.2 245.6" stroke="#ff0000"/>
<path d="M304.4 246.5 L312.8 246.5 M308.6 241.5 L308.6 251.5 M305.7 243.6 L311.5 249.4 M305.7 249.4 L311.5 243.6" stroke="#202020"/>
<path d="M320.9 238.2 L320.9 252.2 M318.3 245.2 L323.5 245.2 M319.1 243.4 L322.7 247 M319.1 247 L322.7 243.4" stroke="#007d00"/>
<path d="M334.2 235.8 L334.2 249.8 M331.6 242.8 L336.8 242.8 M332.4 241 L336 244.6 M332.4 244.6 L336 241" stroke="#ff0000"/>
<path d="M312.1 241.9 L320.5 241.9 M316.3 236.9 L316.3 246.9 M313.4 239 L319.2 244.8 M313.4 244.8 L319.2 239" stroke="#007d00"/>
<path d="M340 239.9 L348.4 239.9 M344.2 234.9 L344.2 244.9 M341.3 237 L347.1 242.8 M341.3 242.8 L347.1 237" stroke="#007d00"/>
<path d="M321.4 239 L331.4 239 M326.4 237 L326.4 241" stroke="#00dcdc"/>
<path d="M304.4 238 L312.8 238 M308.6 233 L308.6 243" stroke="#ff0000"/>
<path d="M332.3 236 L340.7 236 M336.5 231 L336.5 241" stroke="#ff0000"/>
<path d="M315.7 232.2 L321.5 238 M315.7 238 L321.5 232.2" stroke="#e600e6"/>
<path d="M324.5 232.2 L332.9 232.2 M328.7 227.2 L328.7 237.2 M325.8 229.3 L331.6 235.1 M325.8 235.1 L331.6 229.3" stroke="#007d00"/>
<path d="M306.7 231.2 L315.1 231.2 M310.9 226.2 L310.9 236.2 M308 228.3 L313.8 234.1 M308 234.1 L313.8 228.3" stroke="#ff0000"/>
<path d="M320.9 221.3 L320.9 235.3 M318.3 228.3 L323.5 228.3 M319.1 226.5 L322.7 230.1 M319.1 230.1 L322.7 226.5" stroke="#00dcdc"/>
<path d="M333.6 224.7 L339.4 230.5 M333.6 230.5 L339.4 224.7" stroke="#00dcdc"/>
<path d="M312.1 225 L320.5 225 M316.3 220 L316.3 230 M313.4 222.1 L319.2 227.9 M313.4 227.9 L319.2 222.1" stroke="#00dcdc"/>
<path d="M323.7 223.7 L333.7 223.7 M328.7 221.7 L328.7 225.7" stroke="#007d00"/>
<path d="M306.7 222.8 L315.1 222.8 M310.9 217.8 L310.9 227.8 M308 219.9 L313.8 225.7 M308 225.7 L313.8 219.9" stroke="#ff0000"/>
<path d="M338.8 213.8 L338.8 227.8 M336.1 220.8 L341.4 220.8 M336.9 219 L340.6 222.6 M336.9 222.6 L340.6 219" stroke="#007d00"/>
<path d="M316.7 219.8 L325.1 219.8 M320.9 214.8 L320.9 224.8" stroke="#00dcdc"/>
<path d="M326.8 216.9 L335.2 216.9 M331 211.9 L331 221.9 M328.1 214 L333.9 219.8 M328.1 219.8 L333.9 214" stroke="#202020"/>
<path d="M313.1 209 L313.1 223 M310.5 216 L315.8 216 M311.3 214.2 L314.9 217.8 M311.3 217.8 L314.9 214.2" stroke="#e600e6"/>
<path d="M323.2 206 L323.2 220 M320.6 213 L325.8 213 M321.4 211.2 L325 214.8 M321.4 214.8 L325 211.2" stroke="#00dcdc"/>
<path d="M314.4 209.7 L322.8 209.7 M318.6 204.7 L318.6 214.7 M315.7 206.8 L321.5 212.6 M315.7 212.6 L321.5 206.8" stroke="#00dcdc"/>
<path d="M326.8 208.4 L335.2 208.4 M331 203.4 L331 213.4" stroke="#0000ff"/>
<path d="M308.9 207.5 L317.3 207.5 M313.1 202.5 L313.1 212.5 M310.2 204.6 L316 210.4 M310.2 210.4 L316 204.6" stroke="#007d00"/>
<path d="M320.3 201.7 L326.1 207.5 M320.3 207.5 L326.1 201.7" stroke="#e600e6"/>
<path d="M329.1 201.6 L337.5 201.6 M333.3 196.6 L333.3 206.6" stroke="#ff0000"/>
<path d="M312.5 197.8 L318.3 203.6 M312.5 203.6 L318.3 197.8" stroke="#00dcdc"/>
<path d="M321.3 197.8 L329.7 197.8 M325.5 192.8 L325.5 202.8 M322.6 194.9 L328.4 200.7 M322.6 200.7 L328.4 194.9" stroke="#0000ff"/>
<path d="M316.7 194.4 L325.1 194.4 M320.9 189.4 L320.9 199.4 M318 191.5 L323.8 197.3 M318 197.3 L323.8 191.5" stroke="#e600e6"/>
<path d="M329.1 193.2 L337.5 193.2 M333.3 188.2 L333.3 198.2" stroke="#007d00"/>
<path d="M311.2 192.2 L319.6 192.2 M315.4 187.2 L315.4 197.2" stroke="#007d00"/>
<path d="M322.6 186.4 L328.4 192.2 M322.6 192.2 L328.4 186.4" stroke="#202020"/>
<path d="M331.4 186.4 L339.8 186.4 M335.6 181.4 L335.6 191.4 M332.7 183.5 L338.5 189.3 M332.7 189.3 L338.5 183.5" stroke="#00dcdc"/>
<path d="M317.7 178.4 L317.7 192.4 M315.1 185.4 L320.3 185.4 M315.9 183.6 L319.5 187.2 M315.9 187.2 L319.5 183.6" stroke="#007d00"/>
<path d="M323.6 182.5 L332 182.5 M327.8 177.5 L327.8 187.5 M324.9 179.6 L330.7 185.4 M324.9 185.4 L330.7 179.6" stroke="#ff0000"/>
<path d="M319 179.2 L327.4 179.2 M323.2 174.2 L323.2 184.2 M320.3 176.3 L326.1 182.1 M320.3 182.1 L326.1 176.3" stroke="#e600e6"/>
<path d="M331.4 177.9 L339.8 177.9 M335.6 172.9 L335.6 182.9 M332.7 175 L338.5 180.8 M332.7 180.8 L338.5 175" stroke="#00dcdc"/>
<path d="M313.5 177 L321.9 177 M317.7 172 L317.7 182 M314.8 174.1 L320.6 179.9 M314.8 179.9 L320.6 174.1" stroke="#007d00"/>
<path d="M323.6 174 L332 174 M327.8 169 L327.8 179" stroke="#00dcdc"/>
<path d="M332.9 171.1 L342.9 171.1 M337.9 169.1 L337.9 173.1" stroke="#007d00"/>
<path d="M315.8 170.2 L324.2 170.2 M320 165.2 L320 175.2 M317.1 167.3 L322.9 173.1 M317.1 173.1 L322.9 167.3" stroke="#007d00"/>
<path d="M330.1 160.2 L330.1 174.2 M327.5 167.2 L332.7 167.2 M328.3 165.4 L331.9 169 M328.3 169 L331.9 165.4" stroke="#00dcdc"/>
<path d="M321.3 163.9 L329.7 163.9 M325.5 158.9 L325.5 168.9 M322.6 161 L328.4 166.8 M322.6 166.8 L328.4 161" stroke="#0000ff"/>
<path d="M333.7 162.6 L342.1 162.6 M337.9 157.6 L337.9 167.6 M335 159.7 L340.8 165.5 M335 165.5 L340.8 159.7" stroke="#d2d200"/>
<path d="M315.8 161.7 L324.2 161.7 M320 156.7 L320 166.7 M317.1 158.8 L322.9 164.6 M317.1 164.6 L322.9 158.8" stroke="#ff0000"/>
<path d="M325.1 158.8 L335.1 158.8 M330.1 156.8 L330.1 160.8" stroke="#ff0000"/>
<path d="M335.9 155.8 L344.3 155.8 M340.1 150.8 L340.1 160.8 M337.2 152.9 L343 158.7 M337.2 158.7 L343 152.9" stroke="#007d00"/>
<path d="M318.1 154.9 L326.5 154.9 M322.3 149.9 L322.3 159.9" stroke="#007d00"/>
<path d="M330.5 153.6 L338.9 153.6 M334.7 148.6 L334.7 158.6 M331.8 150.7 L337.6 156.5 M331.8 156.5 L337.6 150.7" stroke="#007d00"/>
<path d="M325.9 150.3 L334.3 150.3 M330.1 145.3 L330.1 155.3 M327.2 147.4 L333 153.2 M327.2 153.2 L333 147.4" stroke="#007d00"/>
<path d="M322.3 139.4 L322.3 153.4 M319.7 146.4 L324.9 146.4 M320.5 144.6 L324.1 148.2 M320.5 148.2 L324.1 144.6" stroke="#007d00"/>
<path d="M335 142.8 L340.8 148.6 M335 148.6 L340.8 142.8" stroke="#007d00"/>
<path d="M328.2 143.5 L336.6 143.5 M332.4 138.5 L332.4 148.5" stroke="#007d00"/>
<path d="M320.4 139.6 L328.8 139.6 M324.6 134.6 L324.6 144.6 M321.7 136.7 L327.5 142.5 M321.7 142.5 L327.5 136.7" stroke="#007d00"/>
<path d="M332.8 138.4 L341.2 138.4 M337 133.4 L337 143.4 M334.1 135.5 L339.9 141.3 M334.1 141.3 L339.9 135.5" stroke="#007d00"/>
<path d="M328.2 135 L336.6 135 M332.4 130 L332.4 140 M329.5 132.1 L335.3 137.9 M329.5 137.9 L335.3 132.1" stroke="#e600e6"/>
<path d="M320.4 131.2 L328.8 131.2 M324.6 126.2 L324.6 136.2" stroke="#007d00"/>
<path d="M334.7 121.2 L334.7 135.2 M332.1 128.2 L337.3 128.2 M332.9 126.4 L336.5 130 M332.9 130 L336.5 126.4" stroke="#007d00"/>
<path d="M326.9 117.4 L326.9 131.4 M324.3 124.4 L329.5 124.4 M325.1 122.6 L328.7 126.2 M325.1 126.2 L328.7 122.6" stroke="#007d00"/>
<path d="M334.7 112.7 L334.7 126.7 M332.1 119.7 L337.3 119.7 M332.9 117.9 L336.5 121.5 M332.9 121.5 L336.5 117.9" stroke="#007d00"/>
<path d="M324 113 L329.8 118.8 M324 118.8 L329.8 113" stroke="#007d00"/>
<path d="M332.8 112.9 L341.2 112.9 M337 107.9 L337 117.9 M334.1 110 L339.9 115.8 M334.1 115.8 L339.9 110" stroke="#007d00"/>
</g>
</g>
<g filter="url(#bs)">
<g class="sharp">
<line class="gd" x1="1053.5" y1="480.2" x2="802.6" y2="357.6"/>
<line class="gd" x1="963.5" y1="475.9" x2="1288.3" y2="381.1"/>
<line class="gd" x1="1104.2" y1="465.4" x2="853.3" y2="342.8"/>
<line class="gd" x1="924.3" y1="456.7" x2="1249.1" y2="362"/>
<line class="gd" x1="1155" y1="450.6" x2="904.1" y2="328"/>
<line class="gd" x1="885.1" y1="437.6" x2="1209.9" y2="342.8"/>
<line class="gd" x1="1205.7" y1="435.8" x2="954.8" y2="313.2"/>
<line class="gd" x1="845.9" y1="418.4" x2="1170.7" y2="323.7"/>
<line class="gd" x1="1256.5" y1="421" x2="1005.6" y2="298.4"/>
<line class="gd" x1="806.7" y1="399.2" x2="1131.5" y2="304.5"/>
<line class="gd" x1="1307.2" y1="406.2" x2="1056.3" y2="283.6"/>
<line class="gd" x1="767.5" y1="380.1" x2="1092.3" y2="285.4"/>
<line class="gd" x1="751.8" y1="372.4" x2="1076.6" y2="277.7"/>
<line class="gd" x1="1327.5" y1="400.3" x2="1076.6" y2="277.7"/>
<line class="gv" x1="802.6" y1="357.6" x2="802.6" y2="86.6"/>
<line class="gd" x1="751.8" y1="330.1" x2="1076.6" y2="235.4"/>
<line class="gv" x1="853.3" y1="342.8" x2="853.3" y2="71.8"/>
<line class="gd" x1="751.8" y1="287.7" x2="1076.6" y2="193"/>
<line class="gv" x1="904.1" y1="328" x2="904.1" y2="57"/>
<line class="gd" x1="751.8" y1="245.4" x2="1076.6" y2="150.7"/>
<line class="gv" x1="954.8" y1="313.2" x2="954.8" y2="42.2"/>
<line class="gd" x1="751.8" y1="203" x2="1076.6" y2="108.3"/>
<line class="gv" x1="1005.6" y1="298.4" x2="1005.6" y2="27.4"/>
<line class="gd" x1="751.8" y1="160.7" x2="1076.6" y2="66"/>
<line class="gv" x1="1056.3" y1="283.6" x2="1056.3" y2="12.6"/>
<line class="gd" x1="751.8" y1="118.3" x2="1076.6" y2="23.6"/>
<line class="gv" x1="1327.5" y1="400.3" x2="1327.5" y2="129.2"/>
<line class="gv" x1="1288.3" y1="381.1" x2="1288.3" y2="110.1"/>
<line class="gv" x1="1249.1" y1="362" x2="1249.1" y2="90.9"/>
<line class="gv" x1="1209.9" y1="342.8" x2="1209.9" y2="71.8"/>
<line class="gv" x1="1170.7" y1="323.7" x2="1170.7" y2="52.6"/>
<line class="gv" x1="1131.5" y1="304.5" x2="1131.5" y2="33.5"/>
<line class="gv" x1="1092.3" y1="285.4" x2="1092.3" y2="14.3"/>
<line class="gd" x1="1327.5" y1="357.9" x2="1076.6" y2="235.4"/>
<line class="gd" x1="1327.5" y1="315.6" x2="1076.6" y2="193"/>
<line class="gd" x1="1327.5" y1="273.2" x2="1076.6" y2="150.7"/>
<line class="gd" x1="1327.5" y1="230.9" x2="1076.6" y2="108.3"/>
<line class="gd" x1="1327.5" y1="188.5" x2="1076.6" y2="66"/>
<line class="gd" x1="1327.5" y1="146.2" x2="1076.6" y2="23.6"/>
<line class="ax" x1="751.8" y1="372.4" x2="751.8" y2="101.4"/>
<line class="ax" x1="1002.7" y1="495" x2="751.8" y2="372.4"/>
<line class="ax" x1="1002.7" y1="495" x2="1327.5" y2="400.3"/>
<line class="axd" x1="1002.7" y1="495" x2="1327.5" y2="400.3"/>
<line class="tk" x1="751.8" y1="372.4" x2="745.1" y2="369.1"/>
<line class="tk" x1="1002.7" y1="495" x2="995.5" y2="497.1"/>
<line class="tk" x1="1002.7" y1="495" x2="1009.4" y2="498.3"/>
<line class="tk" x1="751.8" y1="330.1" x2="745.1" y2="326.8"/>
<line class="tk" x1="963.5" y1="475.9" x2="956.3" y2="477.9"/>
<line class="tk" x1="1053.5" y1="480.2" x2="1060.2" y2="483.5"/>
<line class="tk" x1="751.8" y1="287.7" x2="745.1" y2="284.4"/>
<line class="tk" x1="924.3" y1="456.7" x2="917.1" y2="458.8"/>
<line class="tk" x1="1104.2" y1="465.4" x2="1110.9" y2="468.7"/>
<line class="tk" x1="751.8" y1="245.4" x2="745.1" y2="242.1"/>
<line class="tk" x1="885.1" y1="437.6" x2="877.9" y2="439.6"/>
<line class="tk" x1="1155" y1="450.6" x2="1161.7" y2="453.9"/>
<line class="tk" x1="751.8" y1="203" x2="745.1" y2="199.7"/>
<line class="tk" x1="845.9" y1="418.4" x2="838.7" y2="420.5"/>
<line class="tk" x1="1205.7" y1="435.8" x2="1212.4" y2="439.1"/>
<line class="tk" x1="751.8" y1="160.7" x2="745.1" y2="157.4"/>
<line class="tk" x1="806.7" y1="399.2" x2="799.5" y2="401.3"/>
<line class="tk" x1="1256.5" y1="421" x2="1263.2" y2="424.3"/>
<line class="tk" x1="751.8" y1="118.3" x2="745.1" y2="115"/>
<line class="tk" x1="767.5" y1="380.1" x2="760.3" y2="382.2"/>
<line class="tk" x1="1307.2" y1="406.2" x2="1313.9" y2="409.5"/>
</g>
<g class="sharp">
<rect x="1349" y="487.1" width="28.2" height="7.7" fill="#00008f"/>
<rect x="1349" y="479.4" width="28.2" height="8.9" fill="#00009f"/>
<rect x="1349" y="471.7" width="28.2" height="8.9" fill="#0000af"/>
<rect x="1349" y="464" width="28.2" height="8.9" fill="#0000bf"/>
<rect x="1349" y="456.3" width="28.2" height="8.9" fill="#0000cf"/>
<rect x="1349" y="448.7" width="28.2" height="8.9" fill="#0000df"/>
<rect x="1349" y="441" width="28.2" height="8.9" fill="#0000ef"/>
<rect x="1349" y="433.3" width="28.2" height="8.9" fill="#0000ff"/>
<rect x="1349" y="425.6" width="28.2" height="8.9" fill="#0010ff"/>
<rect x="1349" y="417.9" width="28.2" height="8.9" fill="#0020ff"/>
<rect x="1349" y="410.2" width="28.2" height="8.9" fill="#0030ff"/>
<rect x="1349" y="402.5" width="28.2" height="8.9" fill="#0040ff"/>
<rect x="1349" y="394.8" width="28.2" height="8.9" fill="#0050ff"/>
<rect x="1349" y="387.1" width="28.2" height="8.9" fill="#0060ff"/>
<rect x="1349" y="379.4" width="28.2" height="8.9" fill="#0070ff"/>
<rect x="1349" y="371.8" width="28.2" height="8.9" fill="#0080ff"/>
<rect x="1349" y="364.1" width="28.2" height="8.9" fill="#008fff"/>
<rect x="1349" y="356.4" width="28.2" height="8.9" fill="#009fff"/>
<rect x="1349" y="348.7" width="28.2" height="8.9" fill="#00afff"/>
<rect x="1349" y="341" width="28.2" height="8.9" fill="#00bfff"/>
<rect x="1349" y="333.3" width="28.2" height="8.9" fill="#00cfff"/>
<rect x="1349" y="325.6" width="28.2" height="8.9" fill="#00dfff"/>
<rect x="1349" y="317.9" width="28.2" height="8.9" fill="#00efff"/>
<rect x="1349" y="310.2" width="28.2" height="8.9" fill="#00ffff"/>
<rect x="1349" y="302.5" width="28.2" height="8.9" fill="#10ffef"/>
<rect x="1349" y="294.8" width="28.2" height="8.9" fill="#20ffdf"/>
<rect x="1349" y="287.2" width="28.2" height="8.9" fill="#30ffcf"/>
<rect x="1349" y="279.5" width="28.2" height="8.9" fill="#40ffbf"/>
<rect x="1349" y="271.8" width="28.2" height="8.9" fill="#50ffaf"/>
<rect x="1349" y="264.1" width="28.2" height="8.9" fill="#60ff9f"/>
<rect x="1349" y="256.4" width="28.2" height="8.9" fill="#70ff8f"/>
<rect x="1349" y="248.7" width="28.2" height="8.9" fill="#80ff80"/>
<rect x="1349" y="241" width="28.2" height="8.9" fill="#8fff70"/>
<rect x="1349" y="233.3" width="28.2" height="8.9" fill="#9fff60"/>
<rect x="1349" y="225.6" width="28.2" height="8.9" fill="#afff50"/>
<rect x="1349" y="217.9" width="28.2" height="8.9" fill="#bfff40"/>
<rect x="1349" y="210.2" width="28.2" height="8.9" fill="#cfff30"/>
<rect x="1349" y="202.6" width="28.2" height="8.9" fill="#dfff20"/>
<rect x="1349" y="194.9" width="28.2" height="8.9" fill="#efff10"/>
<rect x="1349" y="187.2" width="28.2" height="8.9" fill="#ffff00"/>
<rect x="1349" y="179.5" width="28.2" height="8.9" fill="#ffef00"/>
<rect x="1349" y="171.8" width="28.2" height="8.9" fill="#ffdf00"/>
<rect x="1349" y="164.1" width="28.2" height="8.9" fill="#ffcf00"/>
<rect x="1349" y="156.4" width="28.2" height="8.9" fill="#ffbf00"/>
<rect x="1349" y="148.7" width="28.2" height="8.9" fill="#ffaf00"/>
<rect x="1349" y="141" width="28.2" height="8.9" fill="#ff9f00"/>
<rect x="1349" y="133.3" width="28.2" height="8.9" fill="#ff8f00"/>
<rect x="1349" y="125.7" width="28.2" height="8.9" fill="#ff8000"/>
<rect x="1349" y="118" width="28.2" height="8.9" fill="#ff7000"/>
<rect x="1349" y="110.3" width="28.2" height="8.9" fill="#ff6000"/>
<rect x="1349" y="102.6" width="28.2" height="8.9" fill="#ff5000"/>
<rect x="1349" y="94.9" width="28.2" height="8.9" fill="#ff4000"/>
<rect x="1349" y="87.2" width="28.2" height="8.9" fill="#ff3000"/>
<rect x="1349" y="79.5" width="28.2" height="8.9" fill="#ff2000"/>
<rect x="1349" y="71.8" width="28.2" height="8.9" fill="#ff1000"/>
<rect x="1349" y="64.1" width="28.2" height="8.9" fill="#ff0000"/>
<rect x="1349" y="56.4" width="28.2" height="8.9" fill="#ef0000"/>
<rect x="1349" y="48.7" width="28.2" height="8.9" fill="#df0000"/>
<rect x="1349" y="41.1" width="28.2" height="8.9" fill="#cf0000"/>
<rect x="1349" y="33.4" width="28.2" height="8.9" fill="#bf0000"/>
<rect x="1349" y="25.7" width="28.2" height="8.9" fill="#af0000"/>
<rect x="1349" y="18" width="28.2" height="8.9" fill="#9f0000"/>
<rect x="1349" y="10.3" width="28.2" height="8.9" fill="#8f0000"/>
<rect x="1349" y="2.6" width="28.2" height="8.9" fill="#800000"/>
<rect class="cbb" x="1349" y="2.6" width="28.2" height="492.2"/>
<line class="cbt" x1="1349" y1="425.6" x2="1354.5" y2="425.6"/>
<line class="cbt" x1="1371.7" y1="425.6" x2="1377.2" y2="425.6"/>
<line class="cbt" x1="1349" y1="348.7" x2="1354.5" y2="348.7"/>
<line class="cbt" x1="1371.7" y1="348.7" x2="1377.2" y2="348.7"/>
<line class="cbt" x1="1349" y1="271.8" x2="1354.5" y2="271.8"/>
<line class="cbt" x1="1371.7" y1="271.8" x2="1377.2" y2="271.8"/>
<line class="cbt" x1="1349" y1="194.9" x2="1354.5" y2="194.9"/>
<line class="cbt" x1="1371.7" y1="194.9" x2="1377.2" y2="194.9"/>
<line class="cbt" x1="1349" y1="118" x2="1354.5" y2="118"/>
<line class="cbt" x1="1371.7" y1="118" x2="1377.2" y2="118"/>
<line class="cbt" x1="1349" y1="41.1" x2="1354.5" y2="41.1"/>
<line class="cbt" x1="1371.7" y1="41.1" x2="1377.2" y2="41.1"/>
</g>
<g class="sharp">
<text class="tl" text-anchor="end" x="739.8" y="372.1">0</text>
<text class="tl" text-anchor="end" x="989.7" y="511.5">0</text>
<text class="tl" x="1013.2" y="513.5">0</text>
<text class="tl" text-anchor="end" x="739.8" y="329.8">5</text>
<text class="tl" text-anchor="end" x="950.5" y="492.4">5</text>
<text class="tl" x="1064" y="498.7">5</text>
<text class="tl" text-anchor="end" x="739.8" y="287.4">10</text>
<text class="tl" text-anchor="end" x="911.3" y="473.2">10</text>
<text class="tl" x="1114.7" y="483.9">10</text>
<text class="tl" text-anchor="end" x="739.8" y="245.1">15</text>
<text class="tl" text-anchor="end" x="872.1" y="454.1">15</text>
<text class="tl" x="1165.5" y="469.1">15</text>
<text class="tl" text-anchor="end" x="739.8" y="202.7">20</text>
<text class="tl" text-anchor="end" x="832.9" y="434.9">20</text>
<text class="tl" x="1216.2" y="454.3">20</text>
<text class="tl" text-anchor="end" x="739.8" y="160.4">25</text>
<text class="tl" text-anchor="end" x="793.7" y="415.8">25</text>
<text class="tl" x="1267" y="439.5">25</text>
<text class="tl" text-anchor="end" x="739.8" y="118">30</text>
<text class="tl" text-anchor="end" x="754.5" y="396.6">30</text>
<text class="tl" x="1317.7" y="424.7">30</text>
<text class="tl" x="1381.8" y="430.5">10</text>
<text class="tl" x="1381.8" y="353.6">20</text>
<text class="tl" x="1381.8" y="276.7">30</text>
<text class="tl" x="1381.8" y="199.8">40</text>
<text class="tl" x="1381.8" y="122.9">50</text>
<text class="tl" x="1381.8" y="46">60</text>
</g>
<g class="mk">
<path d="M995.4 388.9 L1003.8 388.9 M999.6 383.9 L999.6 393.9" stroke="#007d00"/>
<path d="M994.4 388.5 L1002.8 388.5 M998.6 383.5 L998.6 393.5 M995.7 385.6 L1001.5 391.4 M995.7 391.4 L1001.5 385.6" stroke="#007d00"/>
<path d="M995.1 381.7 L1003.5 381.7 M999.3 376.7 L999.3 386.7" stroke="#007d00"/>
<path d="M996.1 372.8 L1004.5 372.8 M1000.3 367.8 L1000.3 377.8 M997.4 369.9 L1003.2 375.7 M997.4 375.7 L1003.2 369.9" stroke="#007d00"/>
<path d="M995.5 371.4 L1005.5 371.4 M1000.5 369.4 L1000.5 373.4" stroke="#007d00"/>
<path d="M995.6 364.2 L1004 364.2 M999.8 359.2 L999.8 369.2 M996.9 361.3 L1002.7 367.1 M996.9 367.1 L1002.7 361.3" stroke="#007d00"/>
<path d="M1009.6 380.1 L1009.6 394.1 M1007 387.1 L1012.2 387.1 M1007.8 385.3 L1011.4 388.9 M1007.8 388.9 L1011.4 385.3" stroke="#007d00"/>
<path d="M1004.8 378.5 L1013.2 378.5 M1009 373.5 L1009 383.5 M1006.1 375.6 L1011.9 381.4 M1006.1 381.4 L1011.9 375.6" stroke="#007d00"/>
<path d="M1004.7 369.8 L1013.1 369.8 M1008.9 364.8 L1008.9 374.8 M1006 366.9 L1011.8 372.7 M1006 372.7 L1011.8 366.9" stroke="#ff0000"/>
<path d="M1005.4 360.7 L1013.8 360.7 M1009.6 355.7 L1009.6 365.7 M1006.7 357.8 L1012.5 363.6 M1006.7 363.6 L1012.5 357.8" stroke="#ff0000"/>
<path d="M1005.8 352.7 L1014.2 352.7 M1010 347.7 L1010 357.7" stroke="#0000ff"/>
<path d="M1007.9 351.7 L1016.3 351.7 M1012.1 346.7 L1012.1 356.7 M1009.2 348.8 L1015 354.6 M1009.2 354.6 L1015 348.8" stroke="#0000ff"/>
<path d="M1005.6 344.9 L1014 344.9 M1009.8 339.9 L1009.8 349.9 M1006.9 342 L1012.7 347.8 M1006.9 347.8 L1012.7 342" stroke="#e600e6"/>
<path d="M1006 345.2 L1014.4 345.2 M1010.2 340.2 L1010.2 350.2" stroke="#e600e6"/>
<path d="M1005.1 334.9 L1013.5 334.9 M1009.3 329.9 L1009.3 339.9" stroke="#007d00"/>
<path d="M1005.1 327.5 L1013.5 327.5 M1009.3 322.5 L1009.3 332.5 M1006.4 324.6 L1012.2 330.4 M1006.4 330.4 L1012.2 324.6" stroke="#007d00"/>
<path d="M1007.1 325.7 L1015.5 325.7 M1011.3 320.7 L1011.3 330.7 M1008.4 322.8 L1014.2 328.6 M1008.4 328.6 L1014.2 322.8" stroke="#007d00"/>
<path d="M1009.2 311.3 L1009.2 325.3 M1006.6 318.3 L1011.8 318.3 M1007.4 316.5 L1011 320.1 M1007.4 320.1 L1011 316.5" stroke="#007d00"/>
<path d="M1007.4 307.7 L1013.2 313.5 M1007.4 313.5 L1013.2 307.7" stroke="#007d00"/>
<path d="M1009.8 310.7 L1015.6 316.5 M1009.8 316.5 L1015.6 310.7" stroke="#00dcdc"/>
<path d="M1005.4 302.5 L1013.8 302.5 M1009.6 297.5 L1009.6 307.5 M1006.7 299.6 L1012.5 305.4 M1006.7 305.4 L1012.5 299.6" stroke="#007d00"/>
<path d="M1004.9 299.2 L1013.3 299.2 M1009.1 294.2 L1009.1 304.2 M1006.2 296.3 L1012 302.1 M1006.2 302.1 L1012 296.3" stroke="#007d00"/>
<path d="M1016.4 383.5 L1024.8 383.5 M1020.6 378.5 L1020.6 388.5 M1017.7 380.6 L1023.5 386.4 M1017.7 386.4 L1023.5 380.6" stroke="#007d00"/>
<path d="M1014.5 381.7 L1022.9 381.7 M1018.7 376.7 L1018.7 386.7 M1015.8 378.8 L1021.6 384.6 M1015.8 384.6 L1021.6 378.8" stroke="#ff0000"/>
<path d="M1014.9 374.4 L1023.3 374.4 M1019.1 369.4 L1019.1 379.4 M1016.2 371.5 L1022 377.3 M1016.2 377.3 L1022 371.5" stroke="#007d00"/>
<path d="M1015.4 365.9 L1025.4 365.9 M1020.4 363.9 L1020.4 367.9" stroke="#e600e6"/>
<path d="M1016.7 365.8 L1022.5 371.6 M1016.7 371.6 L1022.5 365.8" stroke="#d2d200"/>
<path d="M1015.9 358.3 L1024.3 358.3 M1020.1 353.3 L1020.1 363.3" stroke="#007d00"/>
<path d="M1016.6 347.3 L1022.4 353.1 M1016.6 353.1 L1022.4 347.3" stroke="#e600e6"/>
<path d="M1014 340.6 L1024 340.6 M1019 338.6 L1019 342.6" stroke="#ff0000"/>
<path d="M1018.3 336.6 L1024.1 342.4 M1018.3 342.4 L1024.1 336.6" stroke="#ff0000"/>
<path d="M1015.5 332 L1023.9 332 M1019.7 327 L1019.7 337" stroke="#ff0000"/>
<path d="M1015.3 323.9 L1025.3 323.9 M1020.3 321.9 L1020.3 325.9" stroke="#00dcdc"/>
<path d="M1016.3 312.2 L1022.1 318 M1016.3 318 L1022.1 312.2" stroke="#007d00"/>
<path d="M1015.8 307.3 L1024.2 307.3 M1020 302.3 L1020 312.3" stroke="#007d00"/>
<path d="M1015.8 299.1 L1024.2 299.1 M1020 294.1 L1020 304.1 M1017.1 296.2 L1022.9 302 M1017.1 302 L1022.9 296.2" stroke="#ff0000"/>
<path d="M1015.5 299.1 L1023.9 299.1 M1019.7 294.1 L1019.7 304.1 M1016.8 296.2 L1022.6 302 M1016.8 302 L1022.6 296.2" stroke="#ff0000"/>
<path d="M1016.1 291.1 L1024.5 291.1 M1020.3 286.1 L1020.3 296.1 M1017.4 288.2 L1023.2 294 M1017.4 294 L1023.2 288.2" stroke="#e600e6"/>
<path d="M1015.9 281.5 L1024.3 281.5 M1020.1 276.5 L1020.1 286.5" stroke="#007d00"/>
<path d="M1015.6 273 L1024 273 M1019.8 268 L1019.8 278" stroke="#ff0000"/>
<path d="M1025.6 380.7 L1034 380.7 M1029.8 375.7 L1029.8 385.7 M1026.9 377.8 L1032.7 383.6 M1026.9 383.6 L1032.7 377.8" stroke="#007d00"/>
<path d="M1031 374.2 L1031 388.2 M1028.4 381.2 L1033.6 381.2 M1029.2 379.4 L1032.8 383 M1029.2 383 L1032.8 379.4" stroke="#ff0000"/>
<path d="M1026.4 372.6 L1034.8 372.6 M1030.6 367.6 L1030.6 377.6 M1027.7 369.7 L1033.5 375.5 M1027.7 375.5 L1033.5 369.7" stroke="#007d00"/>
<path d="M1026.5 375.8 L1034.9 375.8 M1030.7 370.8 L1030.7 380.8 M1027.8 372.9 L1033.6 378.7 M1027.8 378.7 L1033.6 372.9" stroke="#007d00"/>
<path d="M1026.5 363.6 L1034.9 363.6 M1030.7 358.6 L1030.7 368.6" stroke="#007d00"/>
<path d="M1029 356.2 L1029 370.2 M1026.4 363.2 L1031.6 363.2 M1027.2 361.4 L1030.8 365 M1027.2 365 L1030.8 361.4" stroke="#007d00"/>
<path d="M1026 354.7 L1034.4 354.7 M1030.2 349.7 L1030.2 359.7 M1027.3 351.8 L1033.1 357.6 M1027.3 357.6 L1033.1 351.8" stroke="#0000ff"/>
<path d="M1026.4 351.6 L1034.8 351.6 M1030.6 346.6 L1030.6 356.6" stroke="#0000ff"/>
<path d="M1026.1 347.2 L1034.5 347.2 M1030.3 342.2 L1030.3 352.2" stroke="#00dcdc"/>
<path d="M1030.2 331.6 L1030.2 345.6 M1027.6 338.6 L1032.8 338.6 M1028.4 336.8 L1032 340.4 M1028.4 340.4 L1032 336.8" stroke="#007d00"/>
<path d="M1025.3 330.4 L1033.7 330.4 M1029.5 325.4 L1029.5 335.4" stroke="#00dcdc"/>
<path d="M1026.5 322.1 L1034.9 322.1 M1030.7 317.1 L1030.7 327.1 M1027.8 319.2 L1033.6 325 M1027.8 325 L1033.6 319.2" stroke="#007d00"/>
<path d="M1028.2 321.1 L1036.6 321.1 M1032.4 316.1 L1032.4 326.1 M1029.5 318.2 L1035.3 324 M1029.5 324 L1035.3 318.2" stroke="#007d00"/>
<path d="M1030 306.3 L1030 320.3 M1027.4 313.3 L1032.6 313.3 M1028.2 311.5 L1031.8 315.1 M1028.2 315.1 L1031.8 311.5" stroke="#202020"/>
<path d="M1026.5 311.2 L1034.9 311.2 M1030.7 306.2 L1030.7 316.2 M1027.8 308.3 L1033.6 314.1 M1027.8 314.1 L1033.6 308.3" stroke="#ff0000"/>
<path d="M1025.5 305 L1033.9 305 M1029.7 300 L1029.7 310" stroke="#00dcdc"/>
<path d="M1027.6 292.8 L1033.4 298.6 M1027.6 298.6 L1033.4 292.8" stroke="#00dcdc"/>
<path d="M1025.1 287.4 L1033.5 287.4 M1029.3 282.4 L1029.3 292.4" stroke="#ff0000"/>
<path d="M1030 272.4 L1030 286.4 M1027.4 279.4 L1032.6 279.4 M1028.2 277.6 L1031.8 281.2 M1028.2 281.2 L1031.8 277.6" stroke="#007d00"/>
<path d="M1025.7 269.8 L1034.1 269.8 M1029.9 264.8 L1029.9 274.8" stroke="#007d00"/>
<path d="M1026.7 268.1 L1035.1 268.1 M1030.9 263.1 L1030.9 273.1" stroke="#e600e6"/>
<path d="M1036.1 377.7 L1044.5 377.7 M1040.3 372.7 L1040.3 382.7" stroke="#007d00"/>
<path d="M1036.4 369.3 L1044.8 369.3 M1040.6 364.3 L1040.6 374.3 M1037.7 366.4 L1043.5 372.2 M1037.7 372.2 L1043.5 366.4" stroke="#e600e6"/>
<path d="M1035.6 360.5 L1044 360.5 M1039.8 355.5 L1039.8 365.5" stroke="#00dcdc"/>
<path d="M1036.5 352.9 L1044.9 352.9 M1040.7 347.9 L1040.7 357.9 M1037.8 350 L1043.6 355.8 M1037.8 355.8 L1043.6 350" stroke="#ff0000"/>
<path d="M1041.4 343 L1041.4 357 M1038.8 350 L1044 350 M1039.6 348.2 L1043.2 351.8 M1039.6 351.8 L1043.2 348.2" stroke="#e600e6"/>
<path d="M1039.6 337.3 L1039.6 351.3 M1037 344.3 L1042.2 344.3 M1037.8 342.5 L1041.4 346.1 M1037.8 346.1 L1041.4 342.5" stroke="#ff0000"/>
<path d="M1035.8 335.3 L1045.8 335.3 M1040.8 333.3 L1040.8 337.3" stroke="#ff0000"/>
<path d="M1036 326.4 L1044.4 326.4 M1040.2 321.4 L1040.2 331.4" stroke="#e600e6"/>
<path d="M1036 318.4 L1044.4 318.4 M1040.2 313.4 L1040.2 323.4 M1037.3 315.5 L1043.1 321.3 M1037.3 321.3 L1043.1 315.5" stroke="#d2d200"/>
<path d="M1042.6 309.2 L1042.6 323.2 M1040 316.2 L1045.2 316.2 M1040.8 314.4 L1044.4 318 M1040.8 318 L1044.4 314.4" stroke="#d2d200"/>
<path d="M1036.1 309.1 L1044.5 309.1 M1040.3 304.1 L1040.3 314.1 M1037.4 306.2 L1043.2 312 M1037.4 312 L1043.2 306.2" stroke="#ff0000"/>
<path d="M1036.7 301.5 L1045.1 301.5 M1040.9 296.5 L1040.9 306.5 M1038 298.6 L1043.8 304.4 M1038 304.4 L1043.8 298.6" stroke="#ff0000"/>
<path d="M1034.9 293.4 L1044.9 293.4 M1039.9 291.4 L1039.9 295.4" stroke="#007d00"/>
<path d="M1042.1 286.4 L1042.1 300.4 M1039.5 293.4 L1044.7 293.4 M1040.3 291.6 L1043.9 295.2 M1040.3 295.2 L1043.9 291.6" stroke="#007d00"/>
<path d="M1036 284.5 L1044.4 284.5 M1040.2 279.5 L1040.2 289.5" stroke="#007d00"/>
<path d="M1040.1 274.2 L1040.1 288.2 M1037.5 281.2 L1042.7 281.2 M1038.3 279.4 L1041.9 283 M1038.3 283 L1041.9 279.4" stroke="#007d00"/>
<path d="M1040.4 268.3 L1040.4 282.3 M1037.8 275.3 L1043 275.3 M1038.6 273.5 L1042.2 277.1 M1038.6 277.1 L1042.2 273.5" stroke="#007d00"/>
<path d="M1041.8 266 L1041.8 280 M1039.2 273 L1044.4 273 M1040 271.2 L1043.6 274.8 M1040 274.8 L1043.6 271.2" stroke="#00dcdc"/>
<path d="M1036 267.4 L1044.4 267.4 M1040.2 262.4 L1040.2 272.4" stroke="#e600e6"/>
<path d="M1036.6 259.8 L1045 259.8 M1040.8 254.8 L1040.8 264.8 M1037.9 256.9 L1043.7 262.7 M1037.9 262.7 L1043.7 256.9" stroke="#007d00"/>
<path d="M1036.9 262.2 L1045.3 262.2 M1041.1 257.2 L1041.1 267.2 M1038.2 259.3 L1044 265.1 M1038.2 265.1 L1044 259.3" stroke="#00dcdc"/>
<path d="M1035.5 250.6 L1043.9 250.6 M1039.7 245.6 L1039.7 255.6 M1036.8 247.7 L1042.6 253.5 M1036.8 253.5 L1042.6 247.7" stroke="#007d00"/>
<path d="M1035.3 242 L1043.7 242 M1039.5 237 L1039.5 247" stroke="#ff0000"/>
<path d="M1037.1 235 L1037.1 249 M1034.5 242 L1039.7 242 M1035.3 240.2 L1038.9 243.8 M1035.3 243.8 L1038.9 240.2" stroke="#ff0000"/>
<path d="M1045.8 374.9 L1054.2 374.9 M1050 369.9 L1050 379.9 M1047.1 372 L1052.9 377.8 M1047.1 377.8 L1052.9 372" stroke="#007d00"/>
<path d="M1047.9 375.4 L1056.3 375.4 M1052.1 370.4 L1052.1 380.4 M1049.2 372.5 L1055 378.3 M1049.2 378.3 L1055 372.5" stroke="#007d00"/>
<path d="M1045.4 366.6 L1053.8 366.6 M1049.6 361.6 L1049.6 371.6 M1046.7 363.7 L1052.5 369.5 M1046.7 369.5 L1052.5 363.7" stroke="#007d00"/>
<path d="M1043.1 365.3 L1051.5 365.3 M1047.3 360.3 L1047.3 370.3" stroke="#e600e6"/>
<path d="M1049.6 350.8 L1049.6 364.8 M1047 357.8 L1052.2 357.8 M1047.8 356 L1051.4 359.6 M1047.8 359.6 L1051.4 356" stroke="#007d00"/>
<path d="M1047 355.5 L1055.4 355.5 M1051.2 350.5 L1051.2 360.5 M1048.3 352.6 L1054.1 358.4 M1048.3 358.4 L1054.1 352.6" stroke="#007d00"/>
<path d="M1044.9 348.8 L1054.9 348.8 M1049.9 346.8 L1049.9 350.8" stroke="#e600e6"/>
<path d="M1046.1 340.7 L1054.5 340.7 M1050.3 335.7 L1050.3 345.7" stroke="#ff0000"/>
<path d="M1045.9 332.2 L1054.3 332.2 M1050.1 327.2 L1050.1 337.2 M1047.2 329.3 L1053 335.1 M1047.2 335.1 L1053 329.3" stroke="#0000ff"/>
<path d="M1046.1 323.3 L1054.5 323.3 M1050.3 318.3 L1050.3 328.3 M1047.4 320.4 L1053.2 326.2 M1047.4 326.2 L1053.2 320.4" stroke="#ff0000"/>
<path d="M1044.8 315.6 L1054.8 315.6 M1049.8 313.6 L1049.8 317.6" stroke="#007d00"/>
<path d="M1050.5 300 L1050.5 314 M1047.9 307 L1053.1 307 M1048.7 305.2 L1052.3 308.8 M1048.7 308.8 L1052.3 305.2" stroke="#ff0000"/>
<path d="M1046.6 298.6 L1055 298.6 M1050.8 293.6 L1050.8 303.6 M1047.9 295.7 L1053.7 301.5 M1047.9 301.5 L1053.7 295.7" stroke="#ff0000"/>
<path d="M1048.6 296.1 L1057 296.1 M1052.8 291.1 L1052.8 301.1" stroke="#ff0000"/>
<path d="M1047.9 286.7 L1053.7 292.5 M1047.9 292.5 L1053.7 286.7" stroke="#e600e6"/>
<path d="M1045.6 282 L1055.6 282 M1050.6 280 L1050.6 284" stroke="#ff0000"/>
<path d="M1049.4 275.4 L1049.4 289.4 M1046.8 282.4 L1052 282.4 M1047.6 280.6 L1051.2 284.2 M1047.6 284.2 L1051.2 280.6" stroke="#ff0000"/>
<path d="M1046.7 272.8 L1055.1 272.8 M1050.9 267.8 L1050.9 277.8 M1048 269.9 L1053.8 275.7 M1048 275.7 L1053.8 269.9" stroke="#ff0000"/>
<path d="M1045.9 276.1 L1054.3 276.1 M1050.1 271.1 L1050.1 281.1 M1047.2 273.2 L1053 279 M1047.2 279 L1053 273.2" stroke="#ff0000"/>
<path d="M1045 265.3 L1055 265.3 M1050 263.3 L1050 267.3" stroke="#0000ff"/>
<path d="M1045.6 256.9 L1054 256.9 M1049.8 251.9 L1049.8 261.9" stroke="#ff0000"/>
<path d="M1045.9 247.1 L1055.9 247.1 M1050.9 245.1 L1050.9 249.1" stroke="#007d00"/>
<path d="M1046.9 236.6 L1052.7 242.4 M1046.9 242.4 L1052.7 236.6" stroke="#007d00"/>
<path d="M1057 351.2 L1062.8 357 M1057 357 L1062.8 351.2" stroke="#007d00"/>
<path d="M1055.6 345.6 L1064 345.6 M1059.8 340.6 L1059.8 350.6" stroke="#007d00"/>
<path d="M1058.3 344.8 L1064.1 350.6 M1058.3 350.6 L1064.1 344.8" stroke="#007d00"/>
<path d="M1055.5 337.9 L1065.5 337.9 M1060.5 335.9 L1060.5 339.9" stroke="#00dcdc"/>
<path d="M1060.5 321.8 L1060.5 335.8 M1057.9 328.8 L1063.1 328.8 M1058.7 327 L1062.3 330.6 M1058.7 330.6 L1062.3 327" stroke="#00dcdc"/>
<path d="M1055.7 320.4 L1064.1 320.4 M1059.9 315.4 L1059.9 325.4 M1057 317.5 L1062.8 323.3 M1057 323.3 L1062.8 317.5" stroke="#202020"/>
<path d="M1060.9 306.2 L1060.9 320.2 M1058.3 313.2 L1063.5 313.2 M1059.1 311.4 L1062.7 315 M1059.1 315 L1062.7 311.4" stroke="#00dcdc"/>
<path d="M1054.6 314.6 L1063 314.6 M1058.8 309.6 L1058.8 319.6" stroke="#00dcdc"/>
<path d="M1056.9 303.3 L1065.3 303.3 M1061.1 298.3 L1061.1 308.3 M1058.2 300.4 L1064 306.2 M1058.2 306.2 L1064 300.4" stroke="#d2d200"/>
<path d="M1055.5 296.2 L1063.9 296.2 M1059.7 291.2 L1059.7 301.2" stroke="#007d00"/>
<path d="M1056.1 287.5 L1064.5 287.5 M1060.3 282.5 L1060.3 292.5 M1057.4 284.6 L1063.2 290.4 M1057.4 290.4 L1063.2 284.6" stroke="#d2d200"/>
<path d="M1055.4 285 L1063.8 285 M1059.6 280 L1059.6 290 M1056.7 282.1 L1062.5 287.9 M1056.7 287.9 L1062.5 282.1" stroke="#0000ff"/>
<path d="M1055.9 278.5 L1064.3 278.5 M1060.1 273.5 L1060.1 283.5 M1057.2 275.6 L1063 281.4 M1057.2 281.4 L1063 275.6" stroke="#007d00"/>
<path d="M1056.2 270 L1064.6 270 M1060.4 265 L1060.4 275 M1057.5 267.1 L1063.3 272.9 M1057.5 272.9 L1063.3 267.1" stroke="#ff0000"/>
<path d="M1057.7 258 L1063.5 263.8 M1057.7 263.8 L1063.5 258" stroke="#007d00"/>
<path d="M1057.8 250.8 L1063.6 256.6 M1057.8 256.6 L1063.6 250.8" stroke="#007d00"/>
<path d="M1059.2 250.9 L1065 256.7 M1059.2 256.7 L1065 250.9" stroke="#007d00"/>
<path d="M1055.7 244.6 L1064.1 244.6 M1059.9 239.6 L1059.9 249.6 M1057 241.7 L1062.8 247.5 M1057 247.5 L1062.8 241.7" stroke="#d2d200"/>
<path d="M1060.8 229.1 L1060.8 243.1 M1058.2 236.1 L1063.4 236.1 M1059 234.3 L1062.6 237.9 M1059 237.9 L1062.6 234.3" stroke="#007d00"/>
<path d="M1067 344 L1075.4 344 M1071.2 339 L1071.2 349" stroke="#007d00"/>
<path d="M1070.9 328.3 L1070.9 342.3 M1068.3 335.3 L1073.5 335.3 M1069.1 333.5 L1072.7 337.1 M1069.1 337.1 L1072.7 333.5" stroke="#e600e6"/>
<path d="M1071 319.3 L1071 333.3 M1068.4 326.3 L1073.6 326.3 M1069.2 324.5 L1072.8 328.1 M1069.2 328.1 L1072.8 324.5" stroke="#e600e6"/>
<path d="M1067.9 327.4 L1076.3 327.4 M1072.1 322.4 L1072.1 332.4 M1069.2 324.5 L1075 330.3 M1069.2 330.3 L1075 324.5" stroke="#e600e6"/>
<path d="M1066.7 317.3 L1075.1 317.3 M1070.9 312.3 L1070.9 322.3" stroke="#007d00"/>
<path d="M1067.4 306.5 L1073.2 312.3 M1067.4 312.3 L1073.2 306.5" stroke="#e600e6"/>
<path d="M1066.2 308.4 L1074.6 308.4 M1070.4 303.4 L1070.4 313.4" stroke="#e600e6"/>
<path d="M1064.8 300.8 L1074.8 300.8 M1069.8 298.8 L1069.8 302.8" stroke="#0000ff"/>
<path d="M1063.3 297.5 L1071.7 297.5 M1067.5 292.5 L1067.5 302.5 M1064.6 294.6 L1070.4 300.4 M1064.6 300.4 L1070.4 294.6" stroke="#d2d200"/>
<path d="M1066.6 292.7 L1075 292.7 M1070.8 287.7 L1070.8 297.7" stroke="#007d00"/>
<path d="M1065.9 284.8 L1074.3 284.8 M1070.1 279.8 L1070.1 289.8 M1067.2 281.9 L1073 287.7 M1067.2 287.7 L1073 281.9" stroke="#ff0000"/>
<path d="M1066.6 275.4 L1075 275.4 M1070.8 270.4 L1070.8 280.4 M1067.9 272.5 L1073.7 278.3 M1067.9 278.3 L1073.7 272.5" stroke="#0000ff"/>
<path d="M1066.6 267.3 L1075 267.3 M1070.8 262.3 L1070.8 272.3" stroke="#007d00"/>
<path d="M1068.6 261.5 L1074.4 267.3 M1068.6 267.3 L1074.4 261.5" stroke="#007d00"/>
<path d="M1066.4 258.5 L1074.8 258.5 M1070.6 253.5 L1070.6 263.5 M1067.7 255.6 L1073.5 261.4 M1067.7 261.4 L1073.5 255.6" stroke="#e600e6"/>
<path d="M1067.1 250.4 L1075.5 250.4 M1071.3 245.4 L1071.3 255.4" stroke="#0000ff"/>
<path d="M1066.7 242.1 L1075.1 242.1 M1070.9 237.1 L1070.9 247.1 M1068 239.2 L1073.8 245 M1068 245 L1073.8 239.2" stroke="#007d00"/>
<path d="M1076 323.5 L1084.4 323.5 M1080.2 318.5 L1080.2 328.5 M1077.3 320.6 L1083.1 326.4 M1077.3 326.4 L1083.1 320.6" stroke="#007d00"/>
<path d="M1077 323.6 L1085.4 323.6 M1081.2 318.6 L1081.2 328.6 M1078.3 320.7 L1084.1 326.5 M1078.3 326.5 L1084.1 320.7" stroke="#0000ff"/>
<path d="M1075.9 314.3 L1085.9 314.3 M1080.9 312.3 L1080.9 316.3" stroke="#e600e6"/>
<path d="M1078.4 313 L1086.8 313 M1082.6 308 L1082.6 318 M1079.7 310.1 L1085.5 315.9 M1079.7 315.9 L1085.5 310.1" stroke="#0000ff"/>
<path d="M1077.2 306.4 L1085.6 306.4 M1081.4 301.4 L1081.4 311.4 M1078.5 303.5 L1084.3 309.3 M1078.5 309.3 L1084.3 303.5" stroke="#0000ff"/>
<path d="M1076.5 298.2 L1084.9 298.2 M1080.7 293.2 L1080.7 303.2 M1077.8 295.3 L1083.6 301.1 M1077.8 301.1 L1083.6 295.3" stroke="#00dcdc"/>
<path d="M1078.3 296.8 L1086.7 296.8 M1082.5 291.8 L1082.5 301.8 M1079.6 293.9 L1085.4 299.7 M1079.6 299.7 L1085.4 293.9" stroke="#00dcdc"/>
<path d="M1076.3 289.2 L1084.7 289.2 M1080.5 284.2 L1080.5 294.2 M1077.6 286.3 L1083.4 292.1 M1077.6 292.1 L1083.4 286.3" stroke="#ff0000"/>
<path d="M1078.2 289.7 L1086.6 289.7 M1082.4 284.7 L1082.4 294.7 M1079.5 286.8 L1085.3 292.6 M1079.5 292.6 L1085.3 286.8" stroke="#ff0000"/>
<path d="M1080.9 274.2 L1080.9 288.2 M1078.3 281.2 L1083.5 281.2 M1079.1 279.4 L1082.7 283 M1079.1 283 L1082.7 279.4" stroke="#202020"/>
<path d="M1076 284 L1084.4 284 M1080.2 279 L1080.2 289 M1077.3 281.1 L1083.1 286.9 M1077.3 286.9 L1083.1 281.1" stroke="#202020"/>
<path d="M1076.2 273 L1084.6 273 M1080.4 268 L1080.4 278 M1077.5 270.1 L1083.3 275.9 M1077.5 275.9 L1083.3 270.1" stroke="#007d00"/>
<path d="M1080.4 256.4 L1080.4 270.4 M1077.8 263.4 L1083 263.4 M1078.6 261.6 L1082.2 265.2 M1078.6 265.2 L1082.2 261.6" stroke="#d2d200"/>
<path d="M1076.1 255 L1084.5 255 M1080.3 250 L1080.3 260 M1077.4 252.1 L1083.2 257.9 M1077.4 257.9 L1083.2 252.1" stroke="#0000ff"/>
<path d="M1079 254.7 L1084.8 260.5 M1079 260.5 L1084.8 254.7" stroke="#0000ff"/>
<path d="M1076 247.6 L1084.4 247.6 M1080.2 242.6 L1080.2 252.6 M1077.3 244.7 L1083.1 250.5 M1077.3 250.5 L1083.1 244.7" stroke="#ff0000"/>
<path d="M1080.5 232.4 L1080.5 246.4 M1077.9 239.4 L1083.1 239.4 M1078.7 237.6 L1082.3 241.2 M1078.7 241.2 L1082.3 237.6" stroke="#007d00"/>
<path d="M1078.7 237 L1087.1 237 M1082.9 232 L1082.9 242 M1080 234.1 L1085.8 239.9 M1080 239.9 L1085.8 234.1" stroke="#007d00"/>
<path d="M1076.9 229.6 L1085.3 229.6 M1081.1 224.6 L1081.1 234.6 M1078.2 226.7 L1084 232.5 M1078.2 232.5 L1084 226.7" stroke="#007d00"/>
<path d="M1074.4 229.9 L1082.8 229.9 M1078.6 224.9 L1078.6 234.9 M1075.7 227 L1081.5 232.8 M1075.7 232.8 L1081.5 227" stroke="#007d00"/>
<path d="M1090.8 313.1 L1090.8 327.1 M1088.2 320.1 L1093.4 320.1 M1089 318.3 L1092.6 321.9 M1089 321.9 L1092.6 318.3" stroke="#007d00"/>
<path d="M1088.2 322.8 L1096.6 322.8 M1092.4 317.8 L1092.4 327.8" stroke="#007d00"/>
<path d="M1086.8 311.9 L1095.2 311.9 M1091 306.9 L1091 316.9" stroke="#00dcdc"/>
<path d="M1085.7 311.2 L1091.5 317 M1085.7 317 L1091.5 311.2" stroke="#00dcdc"/>
<path d="M1087.1 303.6 L1095.5 303.6 M1091.3 298.6 L1091.3 308.6 M1088.4 300.7 L1094.2 306.5 M1088.4 306.5 L1094.2 300.7" stroke="#202020"/>
<path d="M1087.4 295.8 L1095.8 295.8 M1091.6 290.8 L1091.6 300.8 M1088.7 292.9 L1094.5 298.7 M1088.7 298.7 L1094.5 292.9" stroke="#007d00"/>
<path d="M1088.1 295.8 L1096.5 295.8 M1092.3 290.8 L1092.3 300.8" stroke="#007d00"/>
<path d="M1087 286.2 L1095.4 286.2 M1091.2 281.2 L1091.2 291.2" stroke="#0000ff"/>
<path d="M1087.9 286.2 L1096.3 286.2 M1092.1 281.2 L1092.1 291.2" stroke="#0000ff"/>
<path d="M1086 278.8 L1094.4 278.8 M1090.2 273.8 L1090.2 283.8 M1087.3 275.9 L1093.1 281.7 M1087.3 281.7 L1093.1 275.9" stroke="#007d00"/>
<path d="M1087.1 269.9 L1095.5 269.9 M1091.3 264.9 L1091.3 274.9 M1088.4 267 L1094.2 272.8 M1088.4 272.8 L1094.2 267" stroke="#007d00"/>
<path d="M1086.4 260.9 L1094.8 260.9 M1090.6 255.9 L1090.6 265.9 M1087.7 258 L1093.5 263.8 M1087.7 263.8 L1093.5 258" stroke="#ff0000"/>
<path d="M1086.9 252.9 L1095.3 252.9 M1091.1 247.9 L1091.1 257.9 M1088.2 250 L1094 255.8 M1088.2 255.8 L1094 250" stroke="#00dcdc"/>
<path d="M1091 237.5 L1091 251.5 M1088.4 244.5 L1093.6 244.5 M1089.2 242.7 L1092.8 246.3 M1089.2 246.3 L1092.8 242.7" stroke="#e600e6"/>
<path d="M1087.4 243.9 L1095.8 243.9 M1091.6 238.9 L1091.6 248.9" stroke="#e600e6"/>
<path d="M1091.3 228.3 L1091.3 242.3 M1088.7 235.3 L1093.9 235.3 M1089.5 233.5 L1093.1 237.1 M1089.5 237.1 L1093.1 233.5" stroke="#007d00"/>
<path d="M1096.7 308.7 L1105.1 308.7 M1100.9 303.7 L1100.9 313.7" stroke="#007d00"/>
<path d="M1097.3 300.4 L1105.7 300.4 M1101.5 295.4 L1101.5 305.4" stroke="#00dcdc"/>
<path d="M1097 292.9 L1105.4 292.9 M1101.2 287.9 L1101.2 297.9 M1098.3 290 L1104.1 295.8 M1098.3 295.8 L1104.1 290" stroke="#0000ff"/>
<path d="M1099.6 292.4 L1105.4 298.2 M1099.6 298.2 L1105.4 292.4" stroke="#d2d200"/>
<path d="M1096.5 283.7 L1104.9 283.7 M1100.7 278.7 L1100.7 288.7 M1097.8 280.8 L1103.6 286.6 M1097.8 286.6 L1103.6 280.8" stroke="#202020"/>
<path d="M1097.2 275.9 L1105.6 275.9 M1101.4 270.9 L1101.4 280.9" stroke="#007d00"/>
<path d="M1096.7 266.5 L1105.1 266.5 M1100.9 261.5 L1100.9 271.5 M1098 263.6 L1103.8 269.4 M1098 269.4 L1103.8 263.6" stroke="#ff0000"/>
<path d="M1097.5 264.6 L1105.9 264.6 M1101.7 259.6 L1101.7 269.6 M1098.8 261.7 L1104.6 267.5 M1098.8 267.5 L1104.6 261.7" stroke="#ff0000"/>
<path d="M1095.4 258.9 L1105.4 258.9 M1100.4 256.9 L1100.4 260.9" stroke="#e600e6"/>
<path d="M1096.1 249.1 L1104.5 249.1 M1100.3 244.1 L1100.3 254.1 M1097.4 246.2 L1103.2 252 M1097.4 252 L1103.2 246.2" stroke="#007d00"/>
<path d="M1095 247.4 L1103.4 247.4 M1099.2 242.4 L1099.2 252.4 M1096.3 244.5 L1102.1 250.3 M1096.3 250.3 L1102.1 244.5" stroke="#0000ff"/>
<path d="M1096.9 241.3 L1105.3 241.3 M1101.1 236.3 L1101.1 246.3 M1098.2 238.4 L1104 244.2 M1098.2 244.2 L1104 238.4" stroke="#ff0000"/>
<path d="M1097.1 232.5 L1105.5 232.5 M1101.3 227.5 L1101.3 237.5 M1098.4 229.6 L1104.2 235.4 M1098.4 235.4 L1104.2 229.6" stroke="#007d00"/>
<path d="M1096.4 232.8 L1104.8 232.8 M1100.6 227.8 L1100.6 237.8" stroke="#0000ff"/>
<path d="M1110.9 298.9 L1110.9 312.9 M1108.3 305.9 L1113.5 305.9 M1109.1 304.1 L1112.7 307.7 M1109.1 307.7 L1112.7 304.1" stroke="#007d00"/>
<path d="M1106.8 297.5 L1115.2 297.5 M1111 292.5 L1111 302.5 M1108.1 294.6 L1113.9 300.4 M1108.1 300.4 L1113.9 294.6" stroke="#007d00"/>
<path d="M1109.6 296.9 L1115.4 302.7 M1109.6 302.7 L1115.4 296.9" stroke="#007d00"/>
<path d="M1105.7 289.3 L1115.7 289.3 M1110.7 287.3 L1110.7 291.3" stroke="#007d00"/>
<path d="M1106.6 280.8 L1116.6 280.8 M1111.6 278.8 L1111.6 282.8" stroke="#ff0000"/>
<path d="M1112.6 274.1 L1112.6 288.1 M1110 281.1 L1115.2 281.1 M1110.8 279.3 L1114.4 282.9 M1110.8 282.9 L1114.4 279.3" stroke="#ff0000"/>
<path d="M1107.5 272.3 L1115.9 272.3 M1111.7 267.3 L1111.7 277.3 M1108.8 269.4 L1114.6 275.2 M1108.8 275.2 L1114.6 269.4" stroke="#ff0000"/>
<path d="M1110.6 257.2 L1110.6 271.2 M1108 264.2 L1113.2 264.2 M1108.8 262.4 L1112.4 266 M1108.8 266 L1112.4 262.4" stroke="#00dcdc"/>
<path d="M1107.6 255 L1116 255 M1111.8 250 L1111.8 260 M1108.9 252.1 L1114.7 257.9 M1108.9 257.9 L1114.7 252.1" stroke="#007d00"/>
<path d="M1107.9 253.4 L1116.3 253.4 M1112.1 248.4 L1112.1 258.4" stroke="#007d00"/>
<path d="M1110.4 239.9 L1110.4 253.9 M1107.8 246.9 L1113 246.9 M1108.6 245.1 L1112.2 248.7 M1108.6 248.7 L1112.2 245.1" stroke="#007d00"/>
<path d="M1106.4 247.3 L1114.8 247.3 M1110.6 242.3 L1110.6 252.3 M1107.7 244.4 L1113.5 250.2 M1107.7 250.2 L1113.5 244.4" stroke="#007d00"/>
<path d="M1117.6 286.8 L1126 286.8 M1121.8 281.8 L1121.8 291.8 M1118.9 283.9 L1124.7 289.7 M1118.9 289.7 L1124.7 283.9" stroke="#00dcdc"/>
<path d="M1118.1 281.4 L1123.9 287.2 M1118.1 287.2 L1123.9 281.4" stroke="#007d00"/>
<path d="M1119.1 275.1 L1124.9 280.9 M1119.1 280.9 L1124.9 275.1" stroke="#007d00"/>
<path d="M1117.3 278.4 L1127.3 278.4 M1122.3 276.4 L1122.3 280.4" stroke="#007d00"/>
<path d="M1116.3 269.6 L1126.3 269.6 M1121.3 267.6 L1121.3 271.6" stroke="#007d00"/>
<path d="M1119.8 261.2 L1119.8 275.2 M1117.2 268.2 L1122.4 268.2 M1118 266.4 L1121.6 270 M1118 270 L1121.6 266.4" stroke="#007d00"/>
<path d="M1117.6 260.7 L1126 260.7 M1121.8 255.7 L1121.8 265.7 M1118.9 257.8 L1124.7 263.6 M1118.9 263.6 L1124.7 257.8" stroke="#007d00"/>
<path d="M1115.2 258.4 L1123.6 258.4 M1119.4 253.4 L1119.4 263.4 M1116.5 255.5 L1122.3 261.3 M1116.5 261.3 L1122.3 255.5" stroke="#007d00"/>
<path d="M1122.2 268.6 L1130.6 268.6 M1126.4 263.6 L1126.4 273.6 M1123.5 265.7 L1129.3 271.5 M1123.5 271.5 L1129.3 265.7" stroke="#007d00"/>
</g>
</g>
<g class="soft" filter="url(#bt)">
<line class="gd" x1="342.9" y1="1152.2" x2="89.5" y2="1027.4"/>
<line class="gd" x1="251.9" y1="1147.4" x2="580.7" y2="1053"/>
<line class="gd" x1="394.2" y1="1137.4" x2="140.9" y2="1012.6"/>
<line class="gd" x1="212.3" y1="1127.9" x2="541.1" y2="1033.5"/>
<line class="gd" x1="445.6" y1="1122.7" x2="192.3" y2="997.9"/>
<line class="gd" x1="172.7" y1="1108.4" x2="501.5" y2="1014"/>
<line class="gd" x1="497" y1="1107.9" x2="243.7" y2="983.1"/>
<line class="gd" x1="133.2" y1="1088.9" x2="462" y2="994.5"/>
<line class="gd" x1="548.4" y1="1093.2" x2="295" y2="968.4"/>
<line class="gd" x1="93.6" y1="1069.4" x2="422.4" y2="975"/>
<line class="gd" x1="599.8" y1="1078.4" x2="346.4" y2="953.6"/>
<line class="gd" x1="54" y1="1049.9" x2="382.8" y2="955.5"/>
<line class="gd" x1="38.2" y1="1042.1" x2="367" y2="947.7"/>
<line class="gd" x1="620.3" y1="1072.5" x2="367" y2="947.7"/>
<line class="gv" x1="89.5" y1="1027.4" x2="89.5" y2="752.5"/>
<line class="gd" x1="38.2" y1="999.2" x2="367" y2="904.8"/>
<line class="gv" x1="140.9" y1="1012.6" x2="140.9" y2="737.7"/>
<line class="gd" x1="38.2" y1="956.2" x2="367" y2="861.8"/>
<line class="gv" x1="192.3" y1="997.9" x2="192.3" y2="723"/>
<line class="gd" x1="38.2" y1="913.3" x2="367" y2="818.9"/>
<line class="gv" x1="243.7" y1="983.1" x2="243.7" y2="708.2"/>
<line class="gd" x1="38.2" y1="870.3" x2="367" y2="775.9"/>
<line class="gv" x1="295" y1="968.4" x2="295" y2="693.5"/>
<line class="gd" x1="38.2" y1="827.4" x2="367" y2="733"/>
<line class="gv" x1="346.4" y1="953.6" x2="346.4" y2="678.7"/>
<line class="gd" x1="38.2" y1="784.4" x2="367" y2="690"/>
<line class="gv" x1="620.3" y1="1072.5" x2="620.3" y2="797.6"/>
<line class="gv" x1="580.7" y1="1053" x2="580.7" y2="778.1"/>
<line class="gv" x1="541.1" y1="1033.5" x2="541.1" y2="758.6"/>
<line class="gv" x1="501.5" y1="1014" x2="501.5" y2="739.1"/>
<line class="gv" x1="462" y1="994.5" x2="462" y2="719.6"/>
<line class="gv" x1="422.4" y1="975" x2="422.4" y2="700.1"/>
<line class="gv" x1="382.8" y1="955.5" x2="382.8" y2="680.6"/>
<line class="gd" x1="620.3" y1="1029.5" x2="367" y2="904.8"/>
<line class="gd" x1="620.3" y1="986.6" x2="367" y2="861.8"/>
<line class="gd" x1="620.3" y1="943.6" x2="367" y2="818.9"/>
<line class="gd" x1="620.3" y1="900.7" x2="367" y2="775.9"/>
<line class="gd" x1="620.3" y1="857.8" x2="367" y2="733"/>
<line class="gd" x1="620.3" y1="814.8" x2="367" y2="690"/>
<line class="ax" x1="38.2" y1="1042.1" x2="38.2" y2="767.2"/>
<line class="ax" x1="291.5" y1="1166.9" x2="38.2" y2="1042.1"/>
<line class="ax" x1="291.5" y1="1166.9" x2="620.3" y2="1072.5"/>
<line class="axd" x1="291.5" y1="1166.9" x2="620.3" y2="1072.5"/>
<line class="tk" x1="38.2" y1="1042.1" x2="31.4" y2="1038.8"/>
<line class="tk" x1="291.5" y1="1166.9" x2="284.3" y2="1169"/>
<line class="tk" x1="291.5" y1="1166.9" x2="298.2" y2="1170.2"/>
<line class="tk" x1="38.2" y1="999.2" x2="31.4" y2="995.8"/>
<line class="tk" x1="251.9" y1="1147.4" x2="244.7" y2="1149.5"/>
<line class="tk" x1="342.9" y1="1152.2" x2="349.6" y2="1155.5"/>
<line class="tk" x1="38.2" y1="956.2" x2="31.4" y2="952.9"/>
<line class="tk" x1="212.3" y1="1127.9" x2="205.1" y2="1130"/>
<line class="tk" x1="394.2" y1="1137.4" x2="401" y2="1140.7"/>
<line class="tk" x1="38.2" y1="913.3" x2="31.4" y2="909.9"/>
<line class="tk" x1="172.7" y1="1108.4" x2="165.5" y2="1110.5"/>
<line class="tk" x1="445.6" y1="1122.7" x2="452.4" y2="1126"/>
<line class="tk" x1="38.2" y1="870.3" x2="31.4" y2="867"/>
<line class="tk" x1="133.2" y1="1088.9" x2="126" y2="1091"/>
<line class="tk" x1="497" y1="1107.9" x2="503.7" y2="1111.2"/>
<line class="tk" x1="38.2" y1="827.4" x2="31.4" y2="824"/>
<line class="tk" x1="93.6" y1="1069.4" x2="86.4" y2="1071.5"/>
<line class="tk" x1="548.4" y1="1093.2" x2="555.1" y2="1096.5"/>
<line class="tk" x1="38.2" y1="784.4" x2="31.4" y2="781.1"/>
<line class="tk" x1="54" y1="1049.9" x2="46.8" y2="1052"/>
<line class="tk" x1="599.8" y1="1078.4" x2="606.5" y2="1081.7"/>
</g>
<g class="soft" filter="url(#bl)">
<rect x="642.3" y="1160.7" width="29.2" height="7.8" fill="#00008f"/>
<rect x="642.3" y="1152.9" width="29.2" height="9" fill="#00009f"/>
<rect x="642.3" y="1145.1" width="29.2" height="9" fill="#0000af"/>
<rect x="642.3" y="1137.3" width="29.2" height="9" fill="#0000bf"/>
<rect x="642.3" y="1129.5" width="29.2" height="9" fill="#0000cf"/>
<rect x="642.3" y="1121.7" width="29.2" height="9" fill="#0000df"/>
<rect x="642.3" y="1113.9" width="29.2" height="9" fill="#0000ef"/>
<rect x="642.3" y="1106.1" width="29.2" height="9" fill="#0000ff"/>
<rect x="642.3" y="1098.3" width="29.2" height="9" fill="#0010ff"/>
<rect x="642.3" y="1090.5" width="29.2" height="9" fill="#0020ff"/>
<rect x="642.3" y="1082.7" width="29.2" height="9" fill="#0030ff"/>
<rect x="642.3" y="1074.9" width="29.2" height="9" fill="#0040ff"/>
<rect x="642.3" y="1067.1" width="29.2" height="9" fill="#0050ff"/>
<rect x="642.3" y="1059.3" width="29.2" height="9" fill="#0060ff"/>
<rect x="642.3" y="1051.5" width="29.2" height="9" fill="#0070ff"/>
<rect x="642.3" y="1043.7" width="29.2" height="9" fill="#0080ff"/>
<rect x="642.3" y="1035.9" width="29.2" height="9" fill="#008fff"/>
<rect x="642.3" y="1028.1" width="29.2" height="9" fill="#009fff"/>
<rect x="642.3" y="1020.3" width="29.2" height="9" fill="#00afff"/>
<rect x="642.3" y="1012.5" width="29.2" height="9" fill="#00bfff"/>
<rect x="642.3" y="1004.7" width="29.2" height="9" fill="#00cfff"/>
<rect x="642.3" y="996.9" width="29.2" height="9" fill="#00dfff"/>
<rect x="642.3" y="989.1" width="29.2" height="9" fill="#00efff"/>
<rect x="642.3" y="981.3" width="29.2" height="9" fill="#00ffff"/>
<rect x="642.3" y="973.5" width="29.2" height="9" fill="#10ffef"/>
<rect x="642.3" y="965.7" width="29.2" height="9" fill="#20ffdf"/>
<rect x="642.3" y="957.9" width="29.2" height="9" fill="#30ffcf"/>
<rect x="642.3" y="950.1" width="29.2" height="9" fill="#40ffbf"/>
<rect x="642.3" y="942.3" width="29.2" height="9" fill="#50ffaf"/>
<rect x="642.3" y="934.5" width="29.2" height="9" fill="#60ff9f"/>
<rect x="642.3" y="926.7" width="29.2" height="9" fill="#70ff8f"/>
<rect x="642.3" y="918.9" width="29.2" height="9" fill="#80ff80"/>
<rect x="642.3" y="911.1" width="29.2" height="9" fill="#8fff70"/>
<rect x="642.3" y="903.3" width="29.2" height="9" fill="#9fff60"/>
<rect x="642.3" y="895.5" width="29.2" height="9" fill="#afff50"/>
<rect x="642.3" y="887.7" width="29.2" height="9" fill="#bfff40"/>
<rect x="642.3" y="879.9" width="29.2" height="9" fill="#cfff30"/>
<rect x="642.3" y="872.1" width="29.2" height="9" fill="#dfff20"/>
<rect x="642.3" y="864.3" width="29.2" height="9" fill="#efff10"/>
<rect x="642.3" y="856.5" width="29.2" height="9" fill="#ffff00"/>
<rect x="642.3" y="848.7" width="29.2" height="9" fill="#ffef00"/>
<rect x="642.3" y="840.9" width="29.2" height="9" fill="#ffdf00"/>
<rect x="642.3" y="833.1" width="29.2" height="9" fill="#ffcf00"/>
<rect x="642.3" y="825.3" width="29.2" height="9" fill="#ffbf00"/>
<rect x="642.3" y="817.5" width="29.2" height="9" fill="#ffaf00"/>
<rect x="642.3" y="809.7" width="29.2" height="9" fill="#ff9f00"/>
<rect x="642.3" y="801.9" width="29.2" height="9" fill="#ff8f00"/>
<rect x="642.3" y="794.1" width="29.2" height="9" fill="#ff8000"/>
<rect x="642.3" y="786.3" width="29.2" height="9" fill="#ff7000"/>
<rect x="642.3" y="778.5" width="29.2" height="9" fill="#ff6000"/>
<rect x="642.3" y="770.7" width="29.2" height="9" fill="#ff5000"/>
<rect x="642.3" y="762.9" width="29.2" height="9" fill="#ff4000"/>
<rect x="642.3" y="755.1" width="29.2" height="9" fill="#ff3000"/>
<rect x="642.3" y="747.3" width="29.2" height="9" fill="#ff2000"/>
<rect x="642.3" y="739.5" width="29.2" height="9" fill="#ff1000"/>
<rect x="642.3" y="731.7" width="29.2" height="9" fill="#ff0000"/>
<rect x="642.3" y="723.9" width="29.2" height="9" fill="#ef0000"/>
<rect x="642.3" y="716.1" width="29.2" height="9" fill="#df0000"/>
<rect x="642.3" y="708.3" width="29.2" height="9" fill="#cf0000"/>
<rect x="642.3" y="700.5" width="29.2" height="9" fill="#bf0000"/>
<rect x="642.3" y="692.7" width="29.2" height="9" fill="#af0000"/>
<rect x="642.3" y="684.9" width="29.2" height="9" fill="#9f0000"/>
<rect x="642.3" y="677.1" width="29.2" height="9" fill="#8f0000"/>
<rect x="642.3" y="669.3" width="29.2" height="9" fill="#800000"/>
<rect class="cbb" x="642.3" y="669.3" width="29.2" height="499.2"/>
<line class="cbt" x1="642.3" y1="1098.3" x2="647.8" y2="1098.3"/>
<line class="cbt" x1="666" y1="1098.3" x2="671.5" y2="1098.3"/>
<line class="cbt" x1="642.3" y1="1020.3" x2="647.8" y2="1020.3"/>
<line class="cbt" x1="666" y1="1020.3" x2="671.5" y2="1020.3"/>
<line class="cbt" x1="642.3" y1="942.3" x2="647.8" y2="942.3"/>
<line class="cbt" x1="666" y1="942.3" x2="671.5" y2="942.3"/>
<line class="cbt" x1="642.3" y1="864.3" x2="647.8" y2="864.3"/>
<line class="cbt" x1="666" y1="864.3" x2="671.5" y2="864.3"/>
<line class="cbt" x1="642.3" y1="786.3" x2="647.8" y2="786.3"/>
<line class="cbt" x1="666" y1="786.3" x2="671.5" y2="786.3"/>
<line class="cbt" x1="642.3" y1="708.3" x2="647.8" y2="708.3"/>
<line class="cbt" x1="666" y1="708.3" x2="671.5" y2="708.3"/>
</g>
<g class="soft" filter="url(#bt)">
<text class="tl" text-anchor="end" x="26.2" y="1041.8">0</text>
<text class="tl" text-anchor="end" x="278.5" y="1183.4">0</text>
<text class="tl" x="302" y="1185.4">0</text>
<text class="tl" text-anchor="end" x="26.2" y="998.9">5</text>
<text class="tl" text-anchor="end" x="238.9" y="1163.9">5</text>
<text class="tl" x="353.4" y="1170.7">5</text>
<text class="tl" text-anchor="end" x="26.2" y="955.9">10</text>
<text class="tl" text-anchor="end" x="199.3" y="1144.4">10</text>
<text class="tl" x="404.8" y="1155.9">10</text>
<text class="tl" text-anchor="end" x="26.2" y="913">15</text>
<text class="tl" text-anchor="end" x="159.7" y="1124.9">15</text>
<text class="tl" x="456.1" y="1141.2">15</text>
<text class="tl" text-anchor="end" x="26.2" y="870">20</text>
<text class="tl" text-anchor="end" x="120.2" y="1105.4">20</text>
<text class="tl" x="507.5" y="1126.4">20</text>
<text class="tl" text-anchor="end" x="26.2" y="827.1">25</text>
<text class="tl" text-anchor="end" x="80.6" y="1085.9">25</text>
<text class="tl" x="558.9" y="1111.7">25</text>
<text class="tl" text-anchor="end" x="26.2" y="784.1">30</text>
<text class="tl" text-anchor="end" x="41" y="1066.4">30</text>
<text class="tl" x="610.2" y="1096.9">30</text>
<text class="tl" x="675.6" y="1103.2">10</text>
<text class="tl" x="675.6" y="1025.2">20</text>
<text class="tl" x="675.6" y="947.2">30</text>
<text class="tl" x="675.6" y="869.2">40</text>
<text class="tl" x="675.6" y="791.2">50</text>
<text class="tl" x="675.6" y="713.2">60</text>
</g>
<g filter="url(#bl)">
<circle cx="305.6" cy="1074.3" r="3" fill="#ff0000"/>
<circle cx="343.4" cy="827.2" r="3" fill="#00dcdc"/>
<circle cx="319.8" cy="981.6" r="3" fill="#00dcdc"/>
<circle cx="310.4" cy="1043.4" r="3" fill="#00dcdc"/>
<circle cx="352.8" cy="765.5" r="3" fill="#007d00"/>
<circle cx="303.3" cy="1089.7" r="3" fill="#00dcdc"/>
<circle cx="331.6" cy="904.4" r="3" fill="#007d00"/>
<circle cx="350.5" cy="780.9" r="3" fill="#d2d200"/>
<circle cx="336.3" cy="873.5" r="3" fill="#ff0000"/>
<circle cx="300.9" cy="1105.1" r="3" fill="#ff0000"/>
<circle cx="357.5" cy="734.6" r="3" fill="#ff0000"/>
<circle cx="326.9" cy="935.3" r="3" fill="#202020"/>
<circle cx="317.4" cy="997.1" r="3" fill="#0000ff"/>
<circle cx="338.7" cy="858.1" r="3" fill="#007d00"/>
<circle cx="322.2" cy="966.2" r="3" fill="#ff0000"/>
<circle cx="333.9" cy="889" r="3" fill="#00dcdc"/>
<circle cx="324.5" cy="950.7" r="3" fill="#202020"/>
<circle cx="341" cy="842.7" r="3" fill="#ff0000"/>
<circle cx="298.6" cy="1120.6" r="3" fill="#d2d200"/>
<circle cx="362.2" cy="703.7" r="3" fill="#d2d200"/>
<circle cx="348.1" cy="796.3" r="3" fill="#202020"/>
<circle cx="329.2" cy="919.9" r="3" fill="#007d00"/>
<circle cx="364.6" cy="688.3" r="3" fill="#202020"/>
<circle cx="315.1" cy="1012.5" r="3" fill="#e600e6"/>
<circle cx="367" cy="672.8" r="3" fill="#007d00"/>
<circle cx="359.9" cy="719.1" r="3" fill="#0000ff"/>
<circle cx="308" cy="1058.8" r="3" fill="#00dcdc"/>
<circle cx="345.7" cy="811.8" r="3" fill="#0000ff"/>
<circle cx="355.2" cy="750" r="3" fill="#e600e6"/>
<circle cx="312.7" cy="1027.9" r="3" fill="#e600e6"/>
<circle cx="363.1" cy="762.5" r="3" fill="#007d00"/>
<circle cx="314.2" cy="962.3" r="3" fill="#00dcdc"/>
<circle cx="318.3" cy="1055.9" r="3" fill="#007d00"/>
<circle cx="340.2" cy="783.9" r="3" fill="#00dcdc"/>
<circle cx="353.7" cy="815.7" r="3" fill="#ff0000"/>
<circle cx="326" cy="885.1" r="3" fill="#d2d200"/>
<circle cx="333.1" cy="838.8" r="3" fill="#0000ff"/>
<circle cx="297.7" cy="1061.8" r="3" fill="#ff0000"/>
<circle cx="341.9" cy="892.9" r="3" fill="#0000ff"/>
<circle cx="356.7" cy="675.8" r="3" fill="#007d00"/>
<circle cx="306.5" cy="1124.5" r="3" fill="#007d00"/>
<circle cx="290.7" cy="1108.1" r="3" fill="#007d00"/>
<circle cx="314.2" cy="953.7" r="3" fill="#d2d200"/>
<circle cx="311.2" cy="1093.6" r="3" fill="#007d00"/>
<circle cx="321.3" cy="907.4" r="3" fill="#0000ff"/>
<circle cx="319" cy="931.4" r="3" fill="#00dcdc"/>
<circle cx="311.9" cy="977.7" r="3" fill="#0000ff"/>
<circle cx="323.7" cy="891.9" r="3" fill="#d2d200"/>
<circle cx="318.3" cy="1047.3" r="3" fill="#ff0000"/>
<circle cx="293" cy="1092.7" r="3" fill="#202020"/>
<circle cx="344.9" cy="753" r="3" fill="#007d00"/>
<circle cx="346.6" cy="870.6" r="3" fill="#007d00"/>
<circle cx="367.8" cy="723" r="3" fill="#007d00"/>
<circle cx="351.3" cy="831.1" r="3" fill="#ff0000"/>
<circle cx="356.7" cy="684.4" r="3" fill="#ff0000"/>
<circle cx="337.8" cy="799.3" r="3" fill="#e600e6"/>
<circle cx="293" cy="1101.2" r="3" fill="#ff0000"/>
<circle cx="330.1" cy="978.7" r="3" fill="#007d00"/>
<circle cx="316.6" cy="946.8" r="3" fill="#e600e6"/>
<circle cx="323.7" cy="900.5" r="3" fill="#ff0000"/>
<circle cx="335.5" cy="823.3" r="3" fill="#0000ff"/>
<circle cx="328.4" cy="869.6" r="3" fill="#00dcdc"/>
<circle cx="330.7" cy="854.2" r="3" fill="#007d00"/>
<circle cx="356" cy="808.8" r="3" fill="#e600e6"/>
<circle cx="334.8" cy="939.2" r="3" fill="#202020"/>
<circle cx="308.8" cy="1117.6" r="3" fill="#007d00"/>
<circle cx="326" cy="876.5" r="3" fill="#00dcdc"/>
<circle cx="342.5" cy="768.4" r="3" fill="#007d00"/>
<circle cx="316.6" cy="938.3" r="3" fill="#d2d200"/>
<circle cx="349.6" cy="730.7" r="3" fill="#007d00"/>
<circle cx="311.9" cy="969.1" r="3" fill="#007d00"/>
<circle cx="360.7" cy="769.4" r="3" fill="#e600e6"/>
<circle cx="295.4" cy="1085.8" r="3" fill="#007d00"/>
<circle cx="365.4" cy="747.1" r="3" fill="#007d00"/>
<circle cx="352" cy="715.2" r="3" fill="#00dcdc"/>
<circle cx="348.9" cy="855.2" r="3" fill="#202020"/>
<circle cx="315.9" cy="1071.3" r="3" fill="#007d00"/>
<circle cx="358.4" cy="784.8" r="3" fill="#ff0000"/>
<circle cx="351.3" cy="839.7" r="3" fill="#0000ff"/>
<circle cx="332.4" cy="954.6" r="3" fill="#ff0000"/>
<circle cx="340.2" cy="792.4" r="3" fill="#0000ff"/>
<circle cx="334.8" cy="947.8" r="3" fill="#d2d200"/>
<circle cx="365.4" cy="738.5" r="3" fill="#007d00"/>
<circle cx="320.6" cy="1040.4" r="3" fill="#d2d200"/>
<circle cx="342.5" cy="777" r="3" fill="#007d00"/>
<circle cx="337.1" cy="923.8" r="3" fill="#e600e6"/>
<circle cx="348.9" cy="846.6" r="3" fill="#007d00"/>
<circle cx="363.1" cy="753.9" r="3" fill="#007d00"/>
<circle cx="320.6" cy="1031.8" r="3" fill="#007d00"/>
<circle cx="323" cy="1025" r="3" fill="#007d00"/>
<circle cx="330.7" cy="845.6" r="3" fill="#ff0000"/>
<circle cx="347.2" cy="737.5" r="3" fill="#007d00"/>
<circle cx="356" cy="800.2" r="3" fill="#e600e6"/>
<circle cx="337.8" cy="807.9" r="3" fill="#d2d200"/>
<circle cx="344.2" cy="877.4" r="3" fill="#202020"/>
<circle cx="335.5" cy="814.7" r="3" fill="#007d00"/>
<circle cx="332.4" cy="963.2" r="3" fill="#007d00"/>
<circle cx="319" cy="922.8" r="3" fill="#ff0000"/>
<circle cx="367.8" cy="731.6" r="3" fill="#007d00"/>
<circle cx="313.6" cy="1086.8" r="3" fill="#00dcdc"/>
<circle cx="337.1" cy="932.4" r="3" fill="#00dcdc"/>
<circle cx="346.6" cy="862" r="3" fill="#0000ff"/>
<circle cx="307.2" cy="1000" r="3" fill="#0000ff"/>
<circle cx="370.2" cy="707.6" r="3" fill="#007d00"/>
<circle cx="333.1" cy="830.2" r="3" fill="#202020"/>
<circle cx="372.5" cy="700.8" r="3" fill="#007d00"/>
<circle cx="327.7" cy="994.1" r="3" fill="#ff0000"/>
<circle cx="323" cy="1016.4" r="3" fill="#00dcdc"/>
<circle cx="325.4" cy="1009.6" r="3" fill="#0000ff"/>
<circle cx="321.3" cy="916" r="3" fill="#e600e6"/>
<circle cx="349.6" cy="722.1" r="3" fill="#e600e6"/>
<circle cx="327.7" cy="985.5" r="3" fill="#0000ff"/>
<circle cx="372.5" cy="692.2" r="3" fill="#007d00"/>
<circle cx="344.2" cy="886" r="3" fill="#d2d200"/>
<circle cx="315.9" cy="1062.7" r="3" fill="#ff0000"/>
<circle cx="295.4" cy="1077.2" r="3" fill="#202020"/>
<circle cx="360.7" cy="778" r="3" fill="#007d00"/>
<circle cx="307.2" cy="1008.6" r="3" fill="#0000ff"/>
<circle cx="344.9" cy="761.6" r="3" fill="#0000ff"/>
<circle cx="309.5" cy="984.6" r="3" fill="#007d00"/>
<circle cx="304.8" cy="1015.5" r="3" fill="#ff0000"/>
<circle cx="297.7" cy="1070.4" r="3" fill="#e600e6"/>
<circle cx="341.9" cy="901.5" r="3" fill="#007d00"/>
<circle cx="347.2" cy="746.1" r="3" fill="#007d00"/>
<circle cx="304.1" cy="1139.9" r="3" fill="#007d00"/>
<circle cx="354.3" cy="699.8" r="3" fill="#ff0000"/>
<circle cx="339.5" cy="908.3" r="3" fill="#ff0000"/>
<circle cx="325.4" cy="1001" r="3" fill="#007d00"/>
<circle cx="330.1" cy="970.1" r="3" fill="#e600e6"/>
<circle cx="309.5" cy="993.2" r="3" fill="#0000ff"/>
<circle cx="302.4" cy="1030.9" r="3" fill="#007d00"/>
<circle cx="313.6" cy="1078.2" r="3" fill="#007d00"/>
<circle cx="304.8" cy="1024" r="3" fill="#0000ff"/>
<circle cx="300.1" cy="1054.9" r="3" fill="#0000ff"/>
<circle cx="370.2" cy="716.2" r="3" fill="#007d00"/>
<circle cx="308.8" cy="1109" r="3" fill="#202020"/>
<circle cx="354.3" cy="691.2" r="3" fill="#007d00"/>
<circle cx="339.5" cy="916.9" r="3" fill="#007d00"/>
<circle cx="358.4" cy="793.4" r="3" fill="#007d00"/>
<circle cx="352" cy="706.7" r="3" fill="#ff0000"/>
<circle cx="306.5" cy="1133.1" r="3" fill="#007d00"/>
<circle cx="328.4" cy="861.1" r="3" fill="#00dcdc"/>
<circle cx="353.7" cy="824.3" r="3" fill="#0000ff"/>
<circle cx="311.2" cy="1102.2" r="3" fill="#007d00"/>
<circle cx="302.4" cy="1039.5" r="3" fill="#007d00"/>
<circle cx="300.1" cy="1046.3" r="3" fill="#ff0000"/>
<circle cx="338.7" cy="849.5" r="3" fill="#e600e6"/>
<circle cx="304" cy="956.6" r="3" fill="#0000ff"/>
<circle cx="316.8" cy="1112.9" r="3" fill="#007d00"/>
<circle cx="305.6" cy="1082.8" r="3" fill="#0000ff"/>
<circle cx="311" cy="918.9" r="3" fill="#00dcdc"/>
<circle cx="329.9" cy="795.4" r="3" fill="#00dcdc"/>
<circle cx="339.3" cy="725" r="3" fill="#202020"/>
<circle cx="349.8" cy="896.8" r="3" fill="#007d00"/>
<circle cx="348.1" cy="804.9" r="3" fill="#ff0000"/>
<circle cx="355.2" cy="758.6" r="3" fill="#00dcdc"/>
<circle cx="363.9" cy="812.7" r="3" fill="#e600e6"/>
<circle cx="318.1" cy="881.2" r="3" fill="#e600e6"/>
<circle cx="327.5" cy="819.4" r="3" fill="#0000ff"/>
<circle cx="361.6" cy="819.6" r="3" fill="#ff0000"/>
<circle cx="340.3" cy="967.1" r="3" fill="#007d00"/>
<circle cx="357.5" cy="726" r="3" fill="#0000ff"/>
<circle cx="338" cy="974" r="3" fill="#007d00"/>
<circle cx="336.3" cy="865" r="3" fill="#00dcdc"/>
<circle cx="339.3" cy="742.2" r="3" fill="#ff0000"/>
<circle cx="332.3" cy="771.4" r="3" fill="#e600e6"/>
<circle cx="354.5" cy="865.9" r="3" fill="#0000ff"/>
<circle cx="310.4" cy="1034.8" r="3" fill="#ff0000"/>
<circle cx="325.2" cy="834.9" r="3" fill="#007d00"/>
<circle cx="359.2" cy="843.6" r="3" fill="#ff0000"/>
<circle cx="359.2" cy="835" r="3" fill="#ff0000"/>
<circle cx="350.5" cy="772.3" r="3" fill="#007d00"/>
<circle cx="332.3" cy="780" r="3" fill="#007d00"/>
<circle cx="368.6" cy="790.4" r="3" fill="#007d00"/>
<circle cx="301.6" cy="972.1" r="3" fill="#ff0000"/>
<circle cx="308.7" cy="925.8" r="3" fill="#007d00"/>
<circle cx="366.3" cy="805.9" r="3" fill="#007d00"/>
<circle cx="345.1" cy="944.8" r="3" fill="#007d00"/>
<circle cx="317.4" cy="1005.6" r="3" fill="#e600e6"/>
<circle cx="333.3" cy="1022" r="3" fill="#007d00"/>
<circle cx="341" cy="834.1" r="3" fill="#00dcdc"/>
<circle cx="308.7" cy="942.9" r="3" fill="#00dcdc"/>
<circle cx="345.1" cy="936.3" r="3" fill="#e600e6"/>
<circle cx="328.6" cy="1035.7" r="3" fill="#ff0000"/>
<circle cx="350.5" cy="789.5" r="3" fill="#e600e6"/>
<circle cx="329.2" cy="911.3" r="3" fill="#e600e6"/>
<circle cx="322.8" cy="850.3" r="3" fill="#ff0000"/>
<circle cx="324.5" cy="959.3" r="3" fill="#00dcdc"/>
<circle cx="327.5" cy="810.8" r="3" fill="#d2d200"/>
<circle cx="300.9" cy="1096.6" r="3" fill="#007d00"/>
<circle cx="312.7" cy="1019.4" r="3" fill="#202020"/>
<circle cx="346.4" cy="695.9" r="3" fill="#e600e6"/>
<circle cx="333.3" cy="1013.5" r="3" fill="#007d00"/>
<circle cx="345.7" cy="820.4" r="3" fill="#ff0000"/>
<circle cx="320.5" cy="865.7" r="3" fill="#ff0000"/>
<circle cx="364.6" cy="679.7" r="3" fill="#0000ff"/>
<circle cx="341.7" cy="709.6" r="3" fill="#007d00"/>
<circle cx="361.6" cy="828.2" r="3" fill="#007d00"/>
<circle cx="319.8" cy="973" r="3" fill="#0000ff"/>
<circle cx="304" cy="965.2" r="3" fill="#007d00"/>
<circle cx="331.6" cy="895.8" r="3" fill="#d2d200"/>
<circle cx="329.2" cy="928.4" r="3" fill="#202020"/>
<circle cx="311" cy="910.3" r="3" fill="#202020"/>
<circle cx="347.4" cy="920.8" r="3" fill="#007d00"/>
<circle cx="348.8" cy="680.5" r="3" fill="#d2d200"/>
<circle cx="338" cy="991.2" r="3" fill="#007d00"/>
<circle cx="364.6" cy="696.9" r="3" fill="#ff0000"/>
<circle cx="324.5" cy="942.2" r="3" fill="#0000ff"/>
<circle cx="328.6" cy="1044.3" r="3" fill="#007d00"/>
<circle cx="327.5" cy="802.2" r="3" fill="#0000ff"/>
<circle cx="300.9" cy="1113.7" r="3" fill="#007d00"/>
<circle cx="333.9" cy="880.4" r="3" fill="#007d00"/>
<circle cx="337" cy="757.7" r="3" fill="#007d00"/>
<circle cx="352.1" cy="889.9" r="3" fill="#0000ff"/>
<circle cx="329.9" cy="786.8" r="3" fill="#ff0000"/>
<circle cx="355.2" cy="741.4" r="3" fill="#007d00"/>
<circle cx="308" cy="1067.4" r="3" fill="#007d00"/>
<circle cx="313.4" cy="903.5" r="3" fill="#ff0000"/>
<circle cx="356.9" cy="859.1" r="3" fill="#ff0000"/>
<circle cx="356.9" cy="850.5" r="3" fill="#00dcdc"/>
<circle cx="315.8" cy="888" r="3" fill="#007d00"/>
<circle cx="362.2" cy="712.3" r="3" fill="#00dcdc"/>
<circle cx="317.4" cy="988.5" r="3" fill="#0000ff"/>
<circle cx="306.3" cy="949.8" r="3" fill="#007d00"/>
<circle cx="338" cy="982.6" r="3" fill="#0000ff"/>
<circle cx="320.5" cy="857.2" r="3" fill="#00dcdc"/>
<circle cx="334.6" cy="764.5" r="3" fill="#0000ff"/>
<circle cx="346.4" cy="687.3" r="3" fill="#0000ff"/>
<circle cx="308" cy="1050.2" r="3" fill="#00dcdc"/>
<circle cx="344" cy="702.8" r="3" fill="#00dcdc"/>
<circle cx="337" cy="749.1" r="3" fill="#ff0000"/>
<circle cx="366.3" cy="797.3" r="3" fill="#007d00"/>
<circle cx="325.2" cy="826.3" r="3" fill="#00dcdc"/>
<circle cx="354.5" cy="874.5" r="3" fill="#007d00"/>
<circle cx="333.3" cy="1004.9" r="3" fill="#202020"/>
<circle cx="298.6" cy="1129.2" r="3" fill="#007d00"/>
<circle cx="347.4" cy="929.4" r="3" fill="#007d00"/>
<circle cx="318.1" cy="872.6" r="3" fill="#e600e6"/>
<circle cx="342.7" cy="960.3" r="3" fill="#007d00"/>
<circle cx="315.8" cy="896.6" r="3" fill="#202020"/>
<circle cx="335.6" cy="998" r="3" fill="#007d00"/>
<circle cx="339.3" cy="733.6" r="3" fill="#0000ff"/>
<circle cx="322.8" cy="841.7" r="3" fill="#ff0000"/>
<circle cx="341.7" cy="718.2" r="3" fill="#00dcdc"/>
<circle cx="308.7" cy="934.4" r="3" fill="#202020"/>
<circle cx="342.7" cy="951.7" r="3" fill="#007d00"/>
<circle cx="330.9" cy="1028.9" r="3" fill="#0000ff"/>
<circle cx="336.1" cy="681.7" r="3" fill="#007d00"/>
<circle cx="338.5" cy="692" r="3" fill="#007d00"/>
<circle cx="312.6" cy="853.3" r="3" fill="#007d00"/>
<circle cx="347.4" cy="903.6" r="3" fill="#d2d200"/>
<circle cx="299.2" cy="1013.3" r="3" fill="#007d00"/>
<circle cx="296.9" cy="1028.7" r="3" fill="#007d00"/>
<circle cx="361.4" cy="670.7" r="3" fill="#007d00"/>
<circle cx="322.2" cy="992" r="3" fill="#00dcdc"/>
<circle cx="312.7" cy="1053.7" r="3" fill="#ff0000"/>
<circle cx="296.2" cy="1110.2" r="3" fill="#007d00"/>
<circle cx="359.9" cy="744.9" r="3" fill="#0000ff"/>
<circle cx="319.8" cy="955.9" r="3" fill="#0000ff"/>
<circle cx="333.9" cy="914.8" r="3" fill="#007d00"/>
<circle cx="343.4" cy="801.5" r="3" fill="#00dcdc"/>
<circle cx="341" cy="868.4" r="3" fill="#ff0000"/>
<circle cx="359.9" cy="693.4" r="3" fill="#00dcdc"/>
<circle cx="343.4" cy="853" r="3" fill="#e600e6"/>
<circle cx="341" cy="816.9" r="3" fill="#007d00"/>
<circle cx="362.2" cy="729.5" r="3" fill="#e600e6"/>
<circle cx="303.3" cy="1063.9" r="3" fill="#ff0000"/>
<circle cx="345.7" cy="837.6" r="3" fill="#00dcdc"/>
<circle cx="329.2" cy="945.6" r="3" fill="#ff0000"/>
<circle cx="324.5" cy="976.5" r="3" fill="#ff0000"/>
<circle cx="324.5" cy="925" r="3" fill="#202020"/>
<circle cx="357.5" cy="708.8" r="3" fill="#0000ff"/>
<circle cx="312.7" cy="1002.2" r="3" fill="#0000ff"/>
<circle cx="300.9" cy="1079.4" r="3" fill="#00dcdc"/>
<circle cx="369.3" cy="683.2" r="3" fill="#007d00"/>
<circle cx="293.9" cy="1125.7" r="3" fill="#007d00"/>
<circle cx="355.2" cy="775.8" r="3" fill="#d2d200"/>
<circle cx="336.3" cy="899.3" r="3" fill="#e600e6"/>
<circle cx="317.4" cy="1022.8" r="3" fill="#007d00"/>
<circle cx="338.7" cy="883.9" r="3" fill="#00dcdc"/>
<circle cx="305.6" cy="1100" r="3" fill="#d2d200"/>
<circle cx="315.1" cy="1038.3" r="3" fill="#ff0000"/>
<circle cx="345.7" cy="786" r="3" fill="#00dcdc"/>
<circle cx="350.5" cy="755.1" r="3" fill="#ff0000"/>
<circle cx="310.1" cy="807" r="3" fill="#007d00"/>
<circle cx="310.1" cy="815.2" r="3" fill="#007d00"/>
<circle cx="307.9" cy="823" r="3" fill="#007d00"/>
</g>
<g class="soft" filter="url(#bt)">
<line class="gd" x1="1066.2" y1="1152.8" x2="828.4" y2="1028.4"/>
<line class="gd" x1="980.9" y1="1148.1" x2="1289" y2="1053.7"/>
<line class="gd" x1="1114.3" y1="1138.1" x2="876.5" y2="1013.6"/>
<line class="gd" x1="943.7" y1="1128.7" x2="1251.9" y2="1034.3"/>
<line class="gd" x1="1162.5" y1="1123.3" x2="924.7" y2="998.9"/>
<line class="gd" x1="906.5" y1="1109.2" x2="1214.7" y2="1014.8"/>
<line class="gd" x1="1210.6" y1="1108.6" x2="972.8" y2="984.1"/>
<line class="gd" x1="869.4" y1="1089.8" x2="1177.6" y2="995.4"/>
<line class="gd" x1="1258.8" y1="1093.8" x2="1021" y2="969.4"/>
<line class="gd" x1="832.2" y1="1070.3" x2="1140.4" y2="975.9"/>
<line class="gd" x1="1306.9" y1="1079.1" x2="1069.1" y2="954.6"/>
<line class="gd" x1="795.1" y1="1050.9" x2="1103.3" y2="956.5"/>
<line class="gd" x1="780.2" y1="1043.1" x2="1088.4" y2="948.7"/>
<line class="gd" x1="1326.2" y1="1073.2" x2="1088.4" y2="948.7"/>
<line class="gv" x1="828.4" y1="1028.4" x2="828.4" y2="754.1"/>
<line class="gd" x1="780.2" y1="1000.3" x2="1088.4" y2="905.9"/>
<line class="gv" x1="876.5" y1="1013.6" x2="876.5" y2="739.4"/>
<line class="gd" x1="780.2" y1="957.4" x2="1088.4" y2="863"/>
<line class="gv" x1="924.7" y1="998.9" x2="924.7" y2="724.6"/>
<line class="gd" x1="780.2" y1="914.6" x2="1088.4" y2="820.2"/>
<line class="gv" x1="972.8" y1="984.1" x2="972.8" y2="709.9"/>
<line class="gd" x1="780.2" y1="871.7" x2="1088.4" y2="777.3"/>
<line class="gv" x1="1021" y1="969.4" x2="1021" y2="695.1"/>
<line class="gd" x1="780.2" y1="828.9" x2="1088.4" y2="734.5"/>
<line class="gv" x1="1069.1" y1="954.6" x2="1069.1" y2="680.4"/>
<line class="gd" x1="780.2" y1="786" x2="1088.4" y2="691.6"/>
<line class="gv" x1="1326.2" y1="1073.2" x2="1326.2" y2="799"/>
<line class="gv" x1="1289" y1="1053.7" x2="1289" y2="779.5"/>
<line class="gv" x1="1251.9" y1="1034.3" x2="1251.9" y2="760.1"/>
<line class="gv" x1="1214.7" y1="1014.8" x2="1214.7" y2="740.6"/>
<line class="gv" x1="1177.6" y1="995.4" x2="1177.6" y2="721.2"/>
<line class="gv" x1="1140.4" y1="975.9" x2="1140.4" y2="701.7"/>
<line class="gv" x1="1103.3" y1="956.5" x2="1103.3" y2="682.3"/>
<line class="gd" x1="1326.2" y1="1030.3" x2="1088.4" y2="905.9"/>
<line class="gd" x1="1326.2" y1="987.5" x2="1088.4" y2="863"/>
<line class="gd" x1="1326.2" y1="944.6" x2="1088.4" y2="820.2"/>
<line class="gd" x1="1326.2" y1="901.8" x2="1088.4" y2="777.3"/>
<line class="gd" x1="1326.2" y1="858.9" x2="1088.4" y2="734.5"/>
<line class="gd" x1="1326.2" y1="816.1" x2="1088.4" y2="691.6"/>
<line class="ax" x1="780.2" y1="1043.1" x2="780.2" y2="768.9"/>
<line class="ax" x1="1018" y1="1167.6" x2="780.2" y2="1043.1"/>
<line class="ax" x1="1018" y1="1167.6" x2="1326.2" y2="1073.2"/>
<line class="axd" x1="1018" y1="1167.6" x2="1326.2" y2="1073.2"/>
<line class="tk" x1="780.2" y1="1043.1" x2="773.6" y2="1039.6"/>
<line class="tk" x1="1018" y1="1167.6" x2="1010.8" y2="1169.8"/>
<line class="tk" x1="1018" y1="1167.6" x2="1024.6" y2="1171.1"/>
<line class="tk" x1="780.2" y1="1000.3" x2="773.6" y2="996.8"/>
<line class="tk" x1="980.9" y1="1148.1" x2="973.7" y2="1150.3"/>
<line class="tk" x1="1066.2" y1="1152.8" x2="1072.8" y2="1156.3"/>
<line class="tk" x1="780.2" y1="957.4" x2="773.6" y2="953.9"/>
<line class="tk" x1="943.7" y1="1128.7" x2="936.5" y2="1130.9"/>
<line class="tk" x1="1114.3" y1="1138.1" x2="1120.9" y2="1141.6"/>
<line class="tk" x1="780.2" y1="914.6" x2="773.6" y2="911.1"/>
<line class="tk" x1="906.5" y1="1109.2" x2="899.4" y2="1111.4"/>
<line class="tk" x1="1162.5" y1="1123.3" x2="1169.1" y2="1126.8"/>
<line class="tk" x1="780.2" y1="871.7" x2="773.6" y2="868.2"/>
<line class="tk" x1="869.4" y1="1089.8" x2="862.2" y2="1092"/>
<line class="tk" x1="1210.6" y1="1108.6" x2="1217.2" y2="1112.1"/>
<line class="tk" x1="780.2" y1="828.9" x2="773.6" y2="825.4"/>
<line class="tk" x1="832.2" y1="1070.3" x2="825.1" y2="1072.5"/>
<line class="tk" x1="1258.8" y1="1093.8" x2="1265.4" y2="1097.3"/>
<line class="tk" x1="780.2" y1="786" x2="773.6" y2="782.5"/>
<line class="tk" x1="795.1" y1="1050.9" x2="787.9" y2="1053.1"/>
<line class="tk" x1="1306.9" y1="1079.1" x2="1313.5" y2="1082.6"/>
</g>
<g class="soft" filter="url(#bl)">
<rect x="1345.7" y="1160" width="27.3" height="7.8" fill="#00008f"/>
<rect x="1345.7" y="1152.2" width="27.3" height="9" fill="#00009f"/>
<rect x="1345.7" y="1144.5" width="27.3" height="9" fill="#0000af"/>
<rect x="1345.7" y="1136.7" width="27.3" height="9" fill="#0000bf"/>
<rect x="1345.7" y="1128.9" width="27.3" height="9" fill="#0000cf"/>
<rect x="1345.7" y="1121.1" width="27.3" height="9" fill="#0000df"/>
<rect x="1345.7" y="1113.4" width="27.3" height="9" fill="#0000ef"/>
<rect x="1345.7" y="1105.6" width="27.3" height="9" fill="#0000ff"/>
<rect x="1345.7" y="1097.8" width="27.3" height="9" fill="#0010ff"/>
<rect x="1345.7" y="1090" width="27.3" height="9" fill="#0020ff"/>
<rect x="1345.7" y="1082.2" width="27.3" height="9" fill="#0030ff"/>
<rect x="1345.7" y="1074.5" width="27.3" height="9" fill="#0040ff"/>
<rect x="1345.7" y="1066.7" width="27.3" height="9" fill="#0050ff"/>
<rect x="1345.7" y="1058.9" width="27.3" height="9" fill="#0060ff"/>
<rect x="1345.7" y="1051.1" width="27.3" height="9" fill="#0070ff"/>
<rect x="1345.7" y="1043.3" width="27.3" height="9" fill="#0080ff"/>
<rect x="1345.7" y="1035.6" width="27.3" height="9" fill="#008fff"/>
<rect x="1345.7" y="1027.8" width="27.3" height="9" fill="#009fff"/>
<rect x="1345.7" y="1020" width="27.3" height="9" fill="#00afff"/>
<rect x="1345.7" y="1012.2" width="27.3" height="9" fill="#00bfff"/>
<rect x="1345.7" y="1004.5" width="27.3" height="9" fill="#00cfff"/>
<rect x="1345.7" y="996.7" width="27.3" height="9" fill="#00dfff"/>
<rect x="1345.7" y="988.9" width="27.3" height="9" fill="#00efff"/>
<rect x="1345.7" y="981.1" width="27.3" height="9" fill="#00ffff"/>
<rect x="1345.7" y="973.3" width="27.3" height="9" fill="#10ffef"/>
<rect x="1345.7" y="965.6" width="27.3" height="9" fill="#20ffdf"/>
<rect x="1345.7" y="957.8" width="27.3" height="9" fill="#30ffcf"/>
<rect x="1345.7" y="950" width="27.3" height="9" fill="#40ffbf"/>
<rect x="1345.7" y="942.2" width="27.3" height="9" fill="#50ffaf"/>
<rect x="1345.7" y="934.5" width="27.3" height="9" fill="#60ff9f"/>
<rect x="1345.7" y="926.7" width="27.3" height="9" fill="#70ff8f"/>
<rect x="1345.7" y="918.9" width="27.3" height="9" fill="#80ff80"/>
<rect x="1345.7" y="911.1" width="27.3" height="9" fill="#8fff70"/>
<rect x="1345.7" y="903.3" width="27.3" height="9" fill="#9fff60"/>
<rect x="1345.7" y="895.6" width="27.3" height="9" fill="#afff50"/>
<rect x="1345.7" y="887.8" width="27.3" height="9" fill="#bfff40"/>
<rect x="1345.7" y="880" width="27.3" height="9" fill="#cfff30"/>
<rect x="1345.7" y="872.2" width="27.3" height="9" fill="#dfff20"/>
<rect x="1345.7" y="864.5" width="27.3" height="9" fill="#efff10"/>
<rect x="1345.7" y="856.7" width="27.3" height="9" fill="#ffff00"/>
<rect x="1345.7" y="848.9" width="27.3" height="9" fill="#ffef00"/>
<rect x="1345.7" y="841.1" width="27.3" height="9" fill="#ffdf00"/>
<rect x="1345.7" y="833.3" width="27.3" height="9" fill="#ffcf00"/>
<rect x="1345.7" y="825.6" width="27.3" height="9" fill="#ffbf00"/>
<rect x="1345.7" y="817.8" width="27.3" height="9" fill="#ffaf00"/>
<rect x="1345.7" y="810" width="27.3" height="9" fill="#ff9f00"/>
<rect x="1345.7" y="802.2" width="27.3" height="9" fill="#ff8f00"/>
<rect x="1345.7" y="794.5" width="27.3" height="9" fill="#ff8000"/>
<rect x="1345.7" y="786.7" width="27.3" height="9" fill="#ff7000"/>
<rect x="1345.7" y="778.9" width="27.3" height="9" fill="#ff6000"/>
<rect x="1345.7" y="771.1" width="27.3" height="9" fill="#ff5000"/>
<rect x="1345.7" y="763.3" width="27.3" height="9" fill="#ff4000"/>
<rect x="1345.7" y="755.6" width="27.3" height="9" fill="#ff3000"/>
<rect x="1345.7" y="747.8" width="27.3" height="9" fill="#ff2000"/>
<rect x="1345.7" y="740" width="27.3" height="9" fill="#ff1000"/>
<rect x="1345.7" y="732.2" width="27.3" height="9" fill="#ff0000"/>
<rect x="1345.7" y="724.4" width="27.3" height="9" fill="#ef0000"/>
<rect x="1345.7" y="716.7" width="27.3" height="9" fill="#df0000"/>
<rect x="1345.7" y="708.9" width="27.3" height="9" fill="#cf0000"/>
<rect x="1345.7" y="701.1" width="27.3" height="9" fill="#bf0000"/>
<rect x="1345.7" y="693.3" width="27.3" height="9" fill="#af0000"/>
<rect x="1345.7" y="685.6" width="27.3" height="9" fill="#9f0000"/>
<rect x="1345.7" y="677.8" width="27.3" height="9" fill="#8f0000"/>
<rect x="1345.7" y="670" width="27.3" height="9" fill="#800000"/>
<rect class="cbb" x="1345.7" y="670" width="27.3" height="497.8"/>
<line class="cbt" x1="1345.7" y1="1097.8" x2="1351.2" y2="1097.8"/>
<line class="cbt" x1="1367.5" y1="1097.8" x2="1373" y2="1097.8"/>
<line class="cbt" x1="1345.7" y1="1020" x2="1351.2" y2="1020"/>
<line class="cbt" x1="1367.5" y1="1020" x2="1373" y2="1020"/>
<line class="cbt" x1="1345.7" y1="942.2" x2="1351.2" y2="942.2"/>
<line class="cbt" x1="1367.5" y1="942.2" x2="1373" y2="942.2"/>
<line class="cbt" x1="1345.7" y1="864.5" x2="1351.2" y2="864.5"/>
<line class="cbt" x1="1367.5" y1="864.5" x2="1373" y2="864.5"/>
<line class="cbt" x1="1345.7" y1="786.7" x2="1351.2" y2="786.7"/>
<line class="cbt" x1="1367.5" y1="786.7" x2="1373" y2="786.7"/>
<line class="cbt" x1="1345.7" y1="708.9" x2="1351.2" y2="708.9"/>
<line class="cbt" x1="1367.5" y1="708.9" x2="1373" y2="708.9"/>
</g>
<g class="soft" filter="url(#bt)">
<text class="tl" text-anchor="end" x="768.2" y="1042.8">0</text>
<text class="tl" text-anchor="end" x="1005" y="1184.1">0</text>
<text class="tl" x="1028.5" y="1186.1">0</text>
<text class="tl" text-anchor="end" x="768.2" y="1000">5</text>
<text class="tl" text-anchor="end" x="967.9" y="1164.6">5</text>
<text class="tl" x="1076.7" y="1171.3">5</text>
<text class="tl" text-anchor="end" x="768.2" y="957.1">10</text>
<text class="tl" text-anchor="end" x="930.7" y="1145.2">10</text>
<text class="tl" x="1124.8" y="1156.6">10</text>
<text class="tl" text-anchor="end" x="768.2" y="914.3">15</text>
<text class="tl" text-anchor="end" x="893.5" y="1125.8">15</text>
<text class="tl" x="1173" y="1141.8">15</text>
<text class="tl" text-anchor="end" x="768.2" y="871.4">20</text>
<text class="tl" text-anchor="end" x="856.4" y="1106.3">20</text>
<text class="tl" x="1221.1" y="1127.1">20</text>
<text class="tl" text-anchor="end" x="768.2" y="828.6">25</text>
<text class="tl" text-anchor="end" x="819.2" y="1086.8">25</text>
<text class="tl" x="1269.2" y="1112.3">25</text>
<text class="tl" text-anchor="end" x="768.2" y="785.7">30</text>
<text class="tl" text-anchor="end" x="782.1" y="1067.4">30</text>
<text class="tl" x="1317.4" y="1097.6">30</text>
<text class="tl" x="1377" y="1102.7">10</text>
<text class="tl" x="1377" y="1024.9">20</text>
<text class="tl" x="1377" y="947.1">30</text>
<text class="tl" x="1377" y="869.4">40</text>
<text class="tl" x="1377" y="791.6">50</text>
<text class="tl" x="1377" y="713.8">60</text>
</g>
<g filter="url(#bl)">
<circle cx="1046.2" cy="966.3" r="3" fill="#007d00"/>
<circle cx="1044" cy="981.3" r="3" fill="#007d00"/>
<circle cx="1043.7" cy="990.4" r="3" fill="#007d00"/>
<circle cx="1041.5" cy="997.7" r="3" fill="#ff0000"/>
<circle cx="1032.1" cy="1000.4" r="3" fill="#007d00"/>
<circle cx="1041.5" cy="1006.2" r="3" fill="#007d00"/>
<circle cx="1031.9" cy="1008.5" r="3" fill="#007d00"/>
<circle cx="1039.9" cy="1013.2" r="3" fill="#00dcdc"/>
<circle cx="1029.6" cy="1016.2" r="3" fill="#007d00"/>
<circle cx="1039.6" cy="1021.8" r="3" fill="#007d00"/>
<circle cx="1029.1" cy="1024.3" r="3" fill="#007d00"/>
<circle cx="1036.9" cy="1028.2" r="3" fill="#e600e6"/>
<circle cx="1027.4" cy="1031.8" r="3" fill="#007d00"/>
<circle cx="1036.2" cy="1036.1" r="3" fill="#007d00"/>
<circle cx="1037.2" cy="1037.1" r="3" fill="#007d00"/>
<circle cx="1027.4" cy="1040.3" r="3" fill="#007d00"/>
<circle cx="1034.9" cy="1043.9" r="3" fill="#d2d200"/>
<circle cx="1024.6" cy="1046.4" r="3" fill="#ff0000"/>
<circle cx="1033.2" cy="1050.9" r="3" fill="#007d00"/>
<circle cx="1035.4" cy="1053.4" r="3" fill="#ff0000"/>
<circle cx="1024.6" cy="1055.6" r="3" fill="#ff0000"/>
<circle cx="1015.8" cy="1058.9" r="3" fill="#007d00"/>
<circle cx="1032.9" cy="1059.7" r="3" fill="#00dcdc"/>
<circle cx="1022.9" cy="1063.1" r="3" fill="#ff0000"/>
<circle cx="1030.7" cy="1066.4" r="3" fill="#007d00"/>
<circle cx="1033.2" cy="1068.4" r="3" fill="#ff0000"/>
<circle cx="1022.9" cy="1071" r="3" fill="#00dcdc"/>
<circle cx="1012.9" cy="1074.4" r="3" fill="#007d00"/>
<circle cx="1030.2" cy="1075.5" r="3" fill="#e600e6"/>
<circle cx="1020.7" cy="1078" r="3" fill="#00dcdc"/>
<circle cx="1010.8" cy="1081.4" r="3" fill="#ff0000"/>
<circle cx="1028.6" cy="1082.5" r="3" fill="#007d00"/>
<circle cx="1030.7" cy="1084.3" r="3" fill="#ff0000"/>
<circle cx="1018.8" cy="1086" r="3" fill="#007d00"/>
<circle cx="1021.6" cy="1087.2" r="3" fill="#00dcdc"/>
<circle cx="1010.8" cy="1089.3" r="3" fill="#ff0000"/>
<circle cx="1028.2" cy="1091" r="3" fill="#ff0000"/>
<circle cx="1001.3" cy="1092.7" r="3" fill="#007d00"/>
<circle cx="1018.3" cy="1093.5" r="3" fill="#d2d200"/>
<circle cx="1009.6" cy="1097.2" r="3" fill="#202020"/>
<circle cx="1026.6" cy="1098" r="3" fill="#007d00"/>
<circle cx="1028.7" cy="1100.1" r="3" fill="#ff0000"/>
<circle cx="999.1" cy="1099.7" r="3" fill="#ff0000"/>
<circle cx="1016.9" cy="1101.3" r="3" fill="#d2d200"/>
<circle cx="1018.4" cy="1102.3" r="3" fill="#ff0000"/>
<circle cx="1006.3" cy="1103.8" r="3" fill="#00dcdc"/>
<circle cx="1024.1" cy="1105.5" r="3" fill="#007d00"/>
<circle cx="1026.6" cy="1106.6" r="3" fill="#00dcdc"/>
<circle cx="999.6" cy="1108" r="3" fill="#202020"/>
<circle cx="1014.9" cy="1108.8" r="3" fill="#007d00"/>
<circle cx="1016.2" cy="1109.6" r="3" fill="#007d00"/>
<circle cx="990" cy="1111" r="3" fill="#007d00"/>
<circle cx="1004.9" cy="1110.5" r="3" fill="#007d00"/>
<circle cx="1007.4" cy="1112.6" r="3" fill="#ff0000"/>
<circle cx="1023.2" cy="1113" r="3" fill="#00dcdc"/>
<circle cx="1026.2" cy="1115" r="3" fill="#ff0000"/>
<circle cx="996.6" cy="1115.4" r="3" fill="#0000ff"/>
<circle cx="1014.1" cy="1115.9" r="3" fill="#0000ff"/>
<circle cx="1004.9" cy="1119.6" r="3" fill="#0000ff"/>
<circle cx="1022.4" cy="1119.9" r="3" fill="#007d00"/>
<circle cx="1023.4" cy="1120.6" r="3" fill="#202020"/>
<circle cx="1024.1" cy="1122.9" r="3" fill="#e600e6"/>
<circle cx="996.3" cy="1124.3" r="3" fill="#e600e6"/>
<circle cx="1014.1" cy="1124.6" r="3" fill="#0000ff"/>
<circle cx="1015.6" cy="1125.6" r="3" fill="#00dcdc"/>
<circle cx="1004.9" cy="1128.3" r="3" fill="#0000ff"/>
<circle cx="1023.2" cy="1129.9" r="3" fill="#00dcdc"/>
<circle cx="1024.4" cy="1130.8" r="3" fill="#007d00"/>
<circle cx="997" cy="1132.6" r="3" fill="#00dcdc"/>
<circle cx="1012.9" cy="1132.1" r="3" fill="#e600e6"/>
<circle cx="1019.9" cy="1135.4" r="3" fill="#ff0000"/>
<circle cx="1022.4" cy="1137.6" r="3" fill="#0000ff"/>
<circle cx="1004.1" cy="1136.2" r="3" fill="#00dcdc"/>
<circle cx="1011.3" cy="1140.4" r="3" fill="#e600e6"/>
<circle cx="1018.8" cy="1143.7" r="3" fill="#d2d200"/>
<circle cx="1021.9" cy="1145.4" r="3" fill="#007d00"/>
<circle cx="1011.6" cy="1149.2" r="3" fill="#ff0000"/>
</g>
<text class="pl" x="6.2" y="32.2">(a)</text>
<text class="pl" x="700.2" y="32.2">(b)</text>
<text class="pl" x="6.2" y="663.2">(c)</text>
<text class="pl" x="700.2" y="663.2">(d)</text>
<text class="ttl" x="278.2" y="601.5">Roads</text>
<text class="ttl" x="991.2" y="601.5">Sports Fields</text>
<text class="ttl" x="239.4" y="1253">Buildings</text>
<text class="ttl" x="1002.3" y="1258.4">Rivers</text>
</svg></body></html>
